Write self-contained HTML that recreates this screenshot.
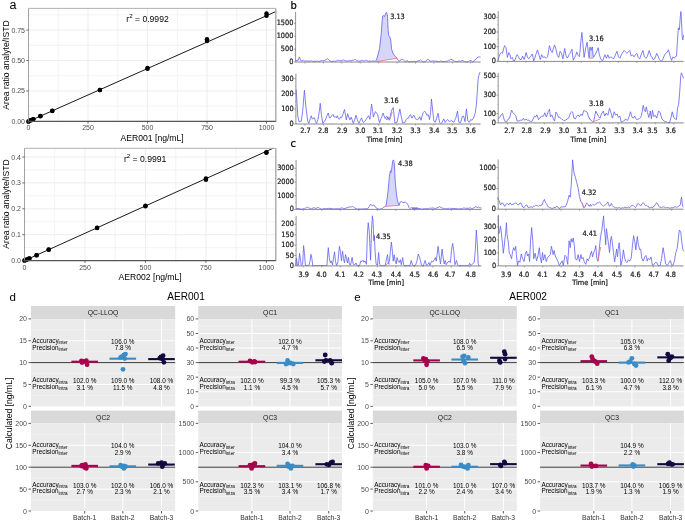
<!DOCTYPE html>
<html><head><meta charset="utf-8"><style>
html,body{margin:0;padding:0;background:#fff;overflow:hidden;}
svg{display:block;}
</style></head><body>
<svg width="685" height="522" viewBox="0 0 685 522">
<rect width="685" height="522" fill="#fff"/>
<line x1="28.5" y1="121.4" x2="275.8" y2="121.4" stroke="#EBEBEB" stroke-width="0.9" />
<line x1="28.5" y1="90.96" x2="275.8" y2="90.96" stroke="#EBEBEB" stroke-width="0.9" />
<line x1="28.5" y1="60.52" x2="275.8" y2="60.52" stroke="#EBEBEB" stroke-width="0.9" />
<line x1="28.5" y1="30.07" x2="275.8" y2="30.07" stroke="#EBEBEB" stroke-width="0.9" />
<line x1="28.5" y1="106.18" x2="275.8" y2="106.18" stroke="#EEEEEE" stroke-width="0.7" />
<line x1="28.5" y1="75.74" x2="275.8" y2="75.74" stroke="#EEEEEE" stroke-width="0.7" />
<line x1="28.5" y1="45.3" x2="275.8" y2="45.3" stroke="#EEEEEE" stroke-width="0.7" />
<line x1="28.5" y1="14.85" x2="275.8" y2="14.85" stroke="#EEEEEE" stroke-width="0.7" />
<line x1="28.5" y1="8.4" x2="28.5" y2="121.4" stroke="#EBEBEB" stroke-width="0.9" />
<line x1="88" y1="8.4" x2="88" y2="121.4" stroke="#EBEBEB" stroke-width="0.9" />
<line x1="147.5" y1="8.4" x2="147.5" y2="121.4" stroke="#EBEBEB" stroke-width="0.9" />
<line x1="207" y1="8.4" x2="207" y2="121.4" stroke="#EBEBEB" stroke-width="0.9" />
<line x1="266.5" y1="8.4" x2="266.5" y2="121.4" stroke="#EBEBEB" stroke-width="0.9" />
<line x1="58.25" y1="8.4" x2="58.25" y2="121.4" stroke="#EEEEEE" stroke-width="0.7" />
<line x1="117.75" y1="8.4" x2="117.75" y2="121.4" stroke="#EEEEEE" stroke-width="0.7" />
<line x1="177.25" y1="8.4" x2="177.25" y2="121.4" stroke="#EEEEEE" stroke-width="0.7" />
<line x1="236.75" y1="8.4" x2="236.75" y2="121.4" stroke="#EEEEEE" stroke-width="0.7" />
<clipPath id="c8"><rect x="28.5" y="8.4" width="247.3" height="113"/></clipPath>
<line x1="28.5" y1="121.4" x2="278.4" y2="10.42" stroke="#1a1a1a" stroke-width="1.0" clip-path="url(#c8)"/>
<circle cx="28.5" cy="121.4" r="2.25" fill="#000"/>
<circle cx="28.5" cy="121.4" r="2.25" fill="#000"/>
<circle cx="30.88" cy="120.34" r="2.25" fill="#000"/>
<circle cx="30.88" cy="120.36" r="2.25" fill="#000"/>
<circle cx="33.26" cy="119.28" r="2.25" fill="#000"/>
<circle cx="33.26" cy="119.29" r="2.25" fill="#000"/>
<circle cx="40.4" cy="116.19" r="2.25" fill="#000"/>
<circle cx="40.4" cy="116.11" r="2.25" fill="#000"/>
<circle cx="52.3" cy="110.98" r="2.25" fill="#000"/>
<circle cx="52.3" cy="110.85" r="2.25" fill="#000"/>
<circle cx="99.9" cy="90.1" r="2.25" fill="#000"/>
<circle cx="99.9" cy="90.08" r="2.25" fill="#000"/>
<circle cx="147.5" cy="68.67" r="2.25" fill="#000"/>
<circle cx="147.5" cy="68.03" r="2.25" fill="#000"/>
<circle cx="207" cy="39.35" r="2.25" fill="#000"/>
<circle cx="207" cy="41.06" r="2.25" fill="#000"/>
<circle cx="266.5" cy="13.54" r="2.25" fill="#000"/>
<circle cx="266.5" cy="15.64" r="2.25" fill="#000"/>
<line x1="28.5" y1="8.4" x2="275.8" y2="8.4" stroke="#A8A8A8" stroke-width="0.9" />
<line x1="28.5" y1="8.4" x2="28.5" y2="121.4" stroke="#9A9A9A" stroke-width="0.9" />
<line x1="275.8" y1="8.4" x2="275.8" y2="121.9" stroke="#aaaaaa" stroke-width="1.4" />
<line x1="28.5" y1="121.4" x2="275.8" y2="121.4" stroke="#555" stroke-width="1.1" />
<line x1="26.3" y1="121.4" x2="28.5" y2="121.4" stroke="#444" stroke-width="0.8" />
<text x="25" y="123.9" font-size="7" text-anchor="end" fill="#4D4D4D" font-family="Liberation Sans, Arial, sans-serif" >0.00</text>
<line x1="26.3" y1="90.96" x2="28.5" y2="90.96" stroke="#444" stroke-width="0.8" />
<text x="25" y="93.46" font-size="7" text-anchor="end" fill="#4D4D4D" font-family="Liberation Sans, Arial, sans-serif" >0.25</text>
<line x1="26.3" y1="60.52" x2="28.5" y2="60.52" stroke="#444" stroke-width="0.8" />
<text x="25" y="63.02" font-size="7" text-anchor="end" fill="#4D4D4D" font-family="Liberation Sans, Arial, sans-serif" >0.50</text>
<line x1="26.3" y1="30.07" x2="28.5" y2="30.07" stroke="#444" stroke-width="0.8" />
<text x="25" y="32.57" font-size="7" text-anchor="end" fill="#4D4D4D" font-family="Liberation Sans, Arial, sans-serif" >0.75</text>
<line x1="28.5" y1="121.4" x2="28.5" y2="123.6" stroke="#444" stroke-width="0.8" />
<text x="28.5" y="130.4" font-size="7" text-anchor="middle" fill="#4D4D4D" font-family="Liberation Sans, Arial, sans-serif" >0</text>
<line x1="88" y1="121.4" x2="88" y2="123.6" stroke="#444" stroke-width="0.8" />
<text x="88" y="130.4" font-size="7" text-anchor="middle" fill="#4D4D4D" font-family="Liberation Sans, Arial, sans-serif" >250</text>
<line x1="147.5" y1="121.4" x2="147.5" y2="123.6" stroke="#444" stroke-width="0.8" />
<text x="147.5" y="130.4" font-size="7" text-anchor="middle" fill="#4D4D4D" font-family="Liberation Sans, Arial, sans-serif" >500</text>
<line x1="207" y1="121.4" x2="207" y2="123.6" stroke="#444" stroke-width="0.8" />
<text x="207" y="130.4" font-size="7" text-anchor="middle" fill="#4D4D4D" font-family="Liberation Sans, Arial, sans-serif" >750</text>
<line x1="266.5" y1="121.4" x2="266.5" y2="123.6" stroke="#444" stroke-width="0.8" />
<text x="266.5" y="130.4" font-size="7" text-anchor="middle" fill="#4D4D4D" font-family="Liberation Sans, Arial, sans-serif" >1000</text>
<text x="152.15" y="140.9" font-size="8.6" text-anchor="middle" fill="#000" font-family="Liberation Sans, Arial, sans-serif" >AER001 [ng/mL]</text>
<text transform="translate(9.1,65) rotate(-90)" font-size="8.6" text-anchor="middle" font-family="Liberation Sans, Arial, sans-serif" fill="#000">Area ratio analyte/ISTD</text>
<text x="126.3" y="21.8" font-size="8.6" font-family="Liberation Sans, Arial, sans-serif" fill="#000">r<tspan font-size="6.2" dy="-3.6">2</tspan><tspan dy="3.6"> = 0.9992</tspan></text>
<line x1="24.5" y1="260.6" x2="275.8" y2="260.6" stroke="#EBEBEB" stroke-width="0.9" />
<line x1="24.5" y1="234.7" x2="275.8" y2="234.7" stroke="#EBEBEB" stroke-width="0.9" />
<line x1="24.5" y1="208.8" x2="275.8" y2="208.8" stroke="#EBEBEB" stroke-width="0.9" />
<line x1="24.5" y1="182.9" x2="275.8" y2="182.9" stroke="#EBEBEB" stroke-width="0.9" />
<line x1="24.5" y1="157" x2="275.8" y2="157" stroke="#EBEBEB" stroke-width="0.9" />
<line x1="24.5" y1="247.65" x2="275.8" y2="247.65" stroke="#EEEEEE" stroke-width="0.7" />
<line x1="24.5" y1="221.75" x2="275.8" y2="221.75" stroke="#EEEEEE" stroke-width="0.7" />
<line x1="24.5" y1="195.85" x2="275.8" y2="195.85" stroke="#EEEEEE" stroke-width="0.7" />
<line x1="24.5" y1="169.95" x2="275.8" y2="169.95" stroke="#EEEEEE" stroke-width="0.7" />
<line x1="24.5" y1="148.3" x2="24.5" y2="260.6" stroke="#EBEBEB" stroke-width="0.9" />
<line x1="84.97" y1="148.3" x2="84.97" y2="260.6" stroke="#EBEBEB" stroke-width="0.9" />
<line x1="145.45" y1="148.3" x2="145.45" y2="260.6" stroke="#EBEBEB" stroke-width="0.9" />
<line x1="205.93" y1="148.3" x2="205.93" y2="260.6" stroke="#EBEBEB" stroke-width="0.9" />
<line x1="266.4" y1="148.3" x2="266.4" y2="260.6" stroke="#EBEBEB" stroke-width="0.9" />
<line x1="54.74" y1="148.3" x2="54.74" y2="260.6" stroke="#EEEEEE" stroke-width="0.7" />
<line x1="115.21" y1="148.3" x2="115.21" y2="260.6" stroke="#EEEEEE" stroke-width="0.7" />
<line x1="175.69" y1="148.3" x2="175.69" y2="260.6" stroke="#EEEEEE" stroke-width="0.7" />
<line x1="236.16" y1="148.3" x2="236.16" y2="260.6" stroke="#EEEEEE" stroke-width="0.7" />
<clipPath id="c148"><rect x="24.5" y="148.3" width="251.3" height="112.3"/></clipPath>
<line x1="24.5" y1="260.6" x2="278.5" y2="145.84" stroke="#1a1a1a" stroke-width="1.0" clip-path="url(#c148)"/>
<circle cx="24.5" cy="260.6" r="2.25" fill="#000"/>
<circle cx="24.5" cy="260.6" r="2.25" fill="#000"/>
<circle cx="26.92" cy="259.49" r="2.25" fill="#000"/>
<circle cx="26.92" cy="259.52" r="2.25" fill="#000"/>
<circle cx="29.34" cy="258.39" r="2.25" fill="#000"/>
<circle cx="29.34" cy="258.43" r="2.25" fill="#000"/>
<circle cx="36.59" cy="255.19" r="2.25" fill="#000"/>
<circle cx="36.59" cy="255.2" r="2.25" fill="#000"/>
<circle cx="48.69" cy="249.73" r="2.25" fill="#000"/>
<circle cx="48.69" cy="249.57" r="2.25" fill="#000"/>
<circle cx="97.07" cy="228.12" r="2.25" fill="#000"/>
<circle cx="97.07" cy="227.73" r="2.25" fill="#000"/>
<circle cx="145.45" cy="205.72" r="2.25" fill="#000"/>
<circle cx="145.45" cy="206.16" r="2.25" fill="#000"/>
<circle cx="205.93" cy="178.51" r="2.25" fill="#000"/>
<circle cx="205.93" cy="179.7" r="2.25" fill="#000"/>
<circle cx="266.4" cy="152.75" r="2.25" fill="#000"/>
<circle cx="266.4" cy="152.27" r="2.25" fill="#000"/>
<line x1="24.5" y1="148.3" x2="275.8" y2="148.3" stroke="#A8A8A8" stroke-width="0.9" />
<line x1="24.5" y1="148.3" x2="24.5" y2="260.6" stroke="#9A9A9A" stroke-width="0.9" />
<line x1="275.8" y1="148.3" x2="275.8" y2="261.1" stroke="#aaaaaa" stroke-width="1.4" />
<line x1="24.5" y1="260.6" x2="275.8" y2="260.6" stroke="#555" stroke-width="1.1" />
<line x1="22.3" y1="260.6" x2="24.5" y2="260.6" stroke="#444" stroke-width="0.8" />
<text x="21" y="263.1" font-size="7" text-anchor="end" fill="#4D4D4D" font-family="Liberation Sans, Arial, sans-serif" >0.0</text>
<line x1="22.3" y1="234.7" x2="24.5" y2="234.7" stroke="#444" stroke-width="0.8" />
<text x="21" y="237.2" font-size="7" text-anchor="end" fill="#4D4D4D" font-family="Liberation Sans, Arial, sans-serif" >0.1</text>
<line x1="22.3" y1="208.8" x2="24.5" y2="208.8" stroke="#444" stroke-width="0.8" />
<text x="21" y="211.3" font-size="7" text-anchor="end" fill="#4D4D4D" font-family="Liberation Sans, Arial, sans-serif" >0.2</text>
<line x1="22.3" y1="182.9" x2="24.5" y2="182.9" stroke="#444" stroke-width="0.8" />
<text x="21" y="185.4" font-size="7" text-anchor="end" fill="#4D4D4D" font-family="Liberation Sans, Arial, sans-serif" >0.3</text>
<line x1="22.3" y1="157" x2="24.5" y2="157" stroke="#444" stroke-width="0.8" />
<text x="21" y="159.5" font-size="7" text-anchor="end" fill="#4D4D4D" font-family="Liberation Sans, Arial, sans-serif" >0.4</text>
<line x1="24.5" y1="260.6" x2="24.5" y2="262.8" stroke="#444" stroke-width="0.8" />
<text x="24.5" y="269.6" font-size="7" text-anchor="middle" fill="#4D4D4D" font-family="Liberation Sans, Arial, sans-serif" >0</text>
<line x1="84.97" y1="260.6" x2="84.97" y2="262.8" stroke="#444" stroke-width="0.8" />
<text x="84.97" y="269.6" font-size="7" text-anchor="middle" fill="#4D4D4D" font-family="Liberation Sans, Arial, sans-serif" >250</text>
<line x1="145.45" y1="260.6" x2="145.45" y2="262.8" stroke="#444" stroke-width="0.8" />
<text x="145.45" y="269.6" font-size="7" text-anchor="middle" fill="#4D4D4D" font-family="Liberation Sans, Arial, sans-serif" >500</text>
<line x1="205.93" y1="260.6" x2="205.93" y2="262.8" stroke="#444" stroke-width="0.8" />
<text x="205.93" y="269.6" font-size="7" text-anchor="middle" fill="#4D4D4D" font-family="Liberation Sans, Arial, sans-serif" >750</text>
<line x1="266.4" y1="260.6" x2="266.4" y2="262.8" stroke="#444" stroke-width="0.8" />
<text x="266.4" y="269.6" font-size="7" text-anchor="middle" fill="#4D4D4D" font-family="Liberation Sans, Arial, sans-serif" >1000</text>
<text x="150.15" y="280.1" font-size="8.6" text-anchor="middle" fill="#000" font-family="Liberation Sans, Arial, sans-serif" >AER002 [ng/mL]</text>
<text transform="translate(9.1,204) rotate(-90)" font-size="8.6" text-anchor="middle" font-family="Liberation Sans, Arial, sans-serif" fill="#000">Area ratio analyte/ISTD</text>
<text x="123.9" y="161.7" font-size="8.6" font-family="Liberation Sans, Arial, sans-serif" fill="#000">r<tspan font-size="6.2" dy="-3.6">2</tspan><tspan dy="3.6"> = 0.9991</tspan></text>
<text x="9.5" y="8.7" font-size="12.5" text-anchor="start" fill="#000" font-family="Liberation Sans, Arial, sans-serif" >a</text>
<rect x="31" y="306" width="144.2" height="13.2" fill="#D9D9D9" />
<rect x="31" y="319.2" width="144.2" height="87.1" fill="#EBEBEB" />
<line x1="31" y1="384.45" x2="175.2" y2="384.45" stroke="#FFFFFF" stroke-width="1.0" />
<line x1="31" y1="362.6" x2="175.2" y2="362.6" stroke="#FFFFFF" stroke-width="1.0" />
<line x1="31" y1="340.75" x2="175.2" y2="340.75" stroke="#FFFFFF" stroke-width="1.0" />
<line x1="31" y1="395.38" x2="175.2" y2="395.38" stroke="#F5F5F5" stroke-width="0.6" />
<line x1="31" y1="373.52" x2="175.2" y2="373.52" stroke="#F5F5F5" stroke-width="0.6" />
<line x1="31" y1="351.68" x2="175.2" y2="351.68" stroke="#F5F5F5" stroke-width="0.6" />
<line x1="31" y1="329.82" x2="175.2" y2="329.82" stroke="#F5F5F5" stroke-width="0.6" />
<line x1="84.7" y1="319.2" x2="84.7" y2="406.3" stroke="#FFFFFF" stroke-width="1.0" />
<line x1="122.8" y1="319.2" x2="122.8" y2="406.3" stroke="#FFFFFF" stroke-width="1.0" />
<line x1="161.5" y1="319.2" x2="161.5" y2="406.3" stroke="#FFFFFF" stroke-width="1.0" />
<text x="103.1" y="315.1" font-size="6.8" text-anchor="middle" fill="#1A1A1A" font-family="Liberation Sans, Arial, sans-serif" >QC-LLOQ</text>
<line x1="28.5" y1="406.3" x2="31" y2="406.3" stroke="#333" stroke-width="0.8" />
<text x="27" y="408.8" font-size="7" text-anchor="end" fill="#4D4D4D" font-family="Liberation Sans, Arial, sans-serif" >0</text>
<line x1="28.5" y1="384.45" x2="31" y2="384.45" stroke="#333" stroke-width="0.8" />
<text x="27" y="386.95" font-size="7" text-anchor="end" fill="#4D4D4D" font-family="Liberation Sans, Arial, sans-serif" >5</text>
<line x1="28.5" y1="362.6" x2="31" y2="362.6" stroke="#333" stroke-width="0.8" />
<text x="27" y="365.1" font-size="7" text-anchor="end" fill="#4D4D4D" font-family="Liberation Sans, Arial, sans-serif" >10</text>
<line x1="28.5" y1="340.75" x2="31" y2="340.75" stroke="#333" stroke-width="0.8" />
<text x="27" y="343.25" font-size="7" text-anchor="end" fill="#4D4D4D" font-family="Liberation Sans, Arial, sans-serif" >15</text>
<line x1="28.5" y1="318.9" x2="31" y2="318.9" stroke="#333" stroke-width="0.8" />
<text x="27" y="321.4" font-size="7" text-anchor="end" fill="#4D4D4D" font-family="Liberation Sans, Arial, sans-serif" >20</text>
<text x="32.3" y="342.9" font-size="6.4" font-family="Liberation Sans, Arial, sans-serif" fill="#000">Accuracy<tspan font-size="4.6" dy="1.3">inter</tspan></text>
<text x="32.3" y="349.5" font-size="6.4" font-family="Liberation Sans, Arial, sans-serif" fill="#000">Precision<tspan font-size="4.6" dy="1.3">inter</tspan></text>
<text x="32.3" y="382.3" font-size="6.4" font-family="Liberation Sans, Arial, sans-serif" fill="#000">Accuracy<tspan font-size="4.6" dy="1.3">intra</tspan></text>
<text x="32.3" y="388.9" font-size="6.4" font-family="Liberation Sans, Arial, sans-serif" fill="#000">Precision<tspan font-size="4.6" dy="1.3">intra</tspan></text>
<text x="122.8" y="343.8" font-size="6.4" text-anchor="middle" fill="#000" font-family="Liberation Sans, Arial, sans-serif" >106.0 %</text>
<text x="122.8" y="350.4" font-size="6.4" text-anchor="middle" fill="#000" font-family="Liberation Sans, Arial, sans-serif" >7.8 %</text>
<text x="84.7" y="383.1" font-size="6.4" text-anchor="middle" fill="#000" font-family="Liberation Sans, Arial, sans-serif" >102.0 %</text>
<text x="84.7" y="389.7" font-size="6.4" text-anchor="middle" fill="#000" font-family="Liberation Sans, Arial, sans-serif" >3.1 %</text>
<text x="122.8" y="383.1" font-size="6.4" text-anchor="middle" fill="#000" font-family="Liberation Sans, Arial, sans-serif" >109.0 %</text>
<text x="122.8" y="389.7" font-size="6.4" text-anchor="middle" fill="#000" font-family="Liberation Sans, Arial, sans-serif" >11.5 %</text>
<text x="161.5" y="383.1" font-size="6.4" text-anchor="middle" fill="#000" font-family="Liberation Sans, Arial, sans-serif" >108.0 %</text>
<text x="161.5" y="389.7" font-size="6.4" text-anchor="middle" fill="#000" font-family="Liberation Sans, Arial, sans-serif" >4.8 %</text>
<line x1="31" y1="362.6" x2="175.2" y2="362.6" stroke="#3a3a3a" stroke-width="1.0" />
<line x1="71.4" y1="361.73" x2="98" y2="361.73" stroke="#A8004C" stroke-width="2.1" />
<line x1="109.5" y1="358.67" x2="136.1" y2="358.67" stroke="#3A8CC6" stroke-width="2.1" />
<line x1="148.2" y1="359.1" x2="174.8" y2="359.1" stroke="#13083F" stroke-width="2.1" />
<circle cx="81.4" cy="361" r="2.4" fill="#A8004C"/>
<circle cx="86.3" cy="360.6" r="2.4" fill="#A8004C"/>
<circle cx="82" cy="362.6" r="2.4" fill="#A8004C"/>
<circle cx="87.1" cy="364.7" r="2.4" fill="#A8004C"/>
<circle cx="84" cy="361.5" r="2.4" fill="#A8004C"/>
<circle cx="120.6" cy="357.4" r="2.4" fill="#3A8CC6"/>
<circle cx="123.9" cy="354.9" r="2.4" fill="#3A8CC6"/>
<circle cx="125.5" cy="354.1" r="2.4" fill="#3A8CC6"/>
<circle cx="124.7" cy="358.6" r="2.4" fill="#3A8CC6"/>
<circle cx="123" cy="369.3" r="2.4" fill="#3A8CC6"/>
<circle cx="122.2" cy="356.5" r="2.4" fill="#3A8CC6"/>
<circle cx="159.8" cy="358.2" r="2.4" fill="#13083F"/>
<circle cx="163.1" cy="355.7" r="2.4" fill="#13083F"/>
<circle cx="162.3" cy="359" r="2.4" fill="#13083F"/>
<circle cx="163.9" cy="362.3" r="2.4" fill="#13083F"/>
<circle cx="161" cy="357" r="2.4" fill="#13083F"/>
<rect x="198.2" y="306" width="143.8" height="13.2" fill="#D9D9D9" />
<rect x="198.2" y="319.2" width="143.8" height="87.1" fill="#EBEBEB" />
<line x1="198.2" y1="391.73" x2="342" y2="391.73" stroke="#FFFFFF" stroke-width="1.0" />
<line x1="198.2" y1="377.17" x2="342" y2="377.17" stroke="#FFFFFF" stroke-width="1.0" />
<line x1="198.2" y1="362.6" x2="342" y2="362.6" stroke="#FFFFFF" stroke-width="1.0" />
<line x1="198.2" y1="348.03" x2="342" y2="348.03" stroke="#FFFFFF" stroke-width="1.0" />
<line x1="198.2" y1="333.47" x2="342" y2="333.47" stroke="#FFFFFF" stroke-width="1.0" />
<line x1="198.2" y1="399.02" x2="342" y2="399.02" stroke="#F5F5F5" stroke-width="0.6" />
<line x1="198.2" y1="384.45" x2="342" y2="384.45" stroke="#F5F5F5" stroke-width="0.6" />
<line x1="198.2" y1="369.88" x2="342" y2="369.88" stroke="#F5F5F5" stroke-width="0.6" />
<line x1="198.2" y1="355.32" x2="342" y2="355.32" stroke="#F5F5F5" stroke-width="0.6" />
<line x1="198.2" y1="340.75" x2="342" y2="340.75" stroke="#F5F5F5" stroke-width="0.6" />
<line x1="198.2" y1="326.18" x2="342" y2="326.18" stroke="#F5F5F5" stroke-width="0.6" />
<line x1="251.9" y1="319.2" x2="251.9" y2="406.3" stroke="#FFFFFF" stroke-width="1.0" />
<line x1="290" y1="319.2" x2="290" y2="406.3" stroke="#FFFFFF" stroke-width="1.0" />
<line x1="328.7" y1="319.2" x2="328.7" y2="406.3" stroke="#FFFFFF" stroke-width="1.0" />
<text x="270.1" y="315.1" font-size="6.8" text-anchor="middle" fill="#1A1A1A" font-family="Liberation Sans, Arial, sans-serif" >QC1</text>
<line x1="195.7" y1="406.3" x2="198.2" y2="406.3" stroke="#333" stroke-width="0.8" />
<text x="194.2" y="408.8" font-size="7" text-anchor="end" fill="#4D4D4D" font-family="Liberation Sans, Arial, sans-serif" >0</text>
<line x1="195.7" y1="391.73" x2="198.2" y2="391.73" stroke="#333" stroke-width="0.8" />
<text x="194.2" y="394.23" font-size="7" text-anchor="end" fill="#4D4D4D" font-family="Liberation Sans, Arial, sans-serif" >10</text>
<line x1="195.7" y1="377.17" x2="198.2" y2="377.17" stroke="#333" stroke-width="0.8" />
<text x="194.2" y="379.67" font-size="7" text-anchor="end" fill="#4D4D4D" font-family="Liberation Sans, Arial, sans-serif" >20</text>
<line x1="195.7" y1="362.6" x2="198.2" y2="362.6" stroke="#333" stroke-width="0.8" />
<text x="194.2" y="365.1" font-size="7" text-anchor="end" fill="#4D4D4D" font-family="Liberation Sans, Arial, sans-serif" >30</text>
<line x1="195.7" y1="348.03" x2="198.2" y2="348.03" stroke="#333" stroke-width="0.8" />
<text x="194.2" y="350.53" font-size="7" text-anchor="end" fill="#4D4D4D" font-family="Liberation Sans, Arial, sans-serif" >40</text>
<line x1="195.7" y1="333.47" x2="198.2" y2="333.47" stroke="#333" stroke-width="0.8" />
<text x="194.2" y="335.97" font-size="7" text-anchor="end" fill="#4D4D4D" font-family="Liberation Sans, Arial, sans-serif" >50</text>
<line x1="195.7" y1="318.9" x2="198.2" y2="318.9" stroke="#333" stroke-width="0.8" />
<text x="194.2" y="321.4" font-size="7" text-anchor="end" fill="#4D4D4D" font-family="Liberation Sans, Arial, sans-serif" >60</text>
<text x="199.5" y="342.9" font-size="6.4" font-family="Liberation Sans, Arial, sans-serif" fill="#000">Accuracy<tspan font-size="4.6" dy="1.3">inter</tspan></text>
<text x="199.5" y="349.5" font-size="6.4" font-family="Liberation Sans, Arial, sans-serif" fill="#000">Precision<tspan font-size="4.6" dy="1.3">inter</tspan></text>
<text x="199.5" y="382.3" font-size="6.4" font-family="Liberation Sans, Arial, sans-serif" fill="#000">Accuracy<tspan font-size="4.6" dy="1.3">intra</tspan></text>
<text x="199.5" y="388.9" font-size="6.4" font-family="Liberation Sans, Arial, sans-serif" fill="#000">Precision<tspan font-size="4.6" dy="1.3">intra</tspan></text>
<text x="290" y="343.8" font-size="6.4" text-anchor="middle" fill="#000" font-family="Liberation Sans, Arial, sans-serif" >102.0 %</text>
<text x="290" y="350.4" font-size="6.4" text-anchor="middle" fill="#000" font-family="Liberation Sans, Arial, sans-serif" >4.7 %</text>
<text x="251.9" y="383.1" font-size="6.4" text-anchor="middle" fill="#000" font-family="Liberation Sans, Arial, sans-serif" >102.0 %</text>
<text x="251.9" y="389.7" font-size="6.4" text-anchor="middle" fill="#000" font-family="Liberation Sans, Arial, sans-serif" >1.1 %</text>
<text x="290" y="383.1" font-size="6.4" text-anchor="middle" fill="#000" font-family="Liberation Sans, Arial, sans-serif" >99.3 %</text>
<text x="290" y="389.7" font-size="6.4" text-anchor="middle" fill="#000" font-family="Liberation Sans, Arial, sans-serif" >4.5 %</text>
<text x="328.7" y="383.1" font-size="6.4" text-anchor="middle" fill="#000" font-family="Liberation Sans, Arial, sans-serif" >105.3 %</text>
<text x="328.7" y="389.7" font-size="6.4" text-anchor="middle" fill="#000" font-family="Liberation Sans, Arial, sans-serif" >5.7 %</text>
<line x1="198.2" y1="362.6" x2="342" y2="362.6" stroke="#3a3a3a" stroke-width="1.0" />
<line x1="238.6" y1="361.73" x2="265.2" y2="361.73" stroke="#A8004C" stroke-width="2.1" />
<line x1="276.7" y1="362.91" x2="303.3" y2="362.91" stroke="#3A8CC6" stroke-width="2.1" />
<line x1="315.4" y1="360.28" x2="342" y2="360.28" stroke="#13083F" stroke-width="2.1" />
<circle cx="250" cy="361" r="2.4" fill="#A8004C"/>
<circle cx="254.1" cy="361.5" r="2.4" fill="#A8004C"/>
<circle cx="252.4" cy="362.3" r="2.4" fill="#A8004C"/>
<circle cx="255" cy="362" r="2.4" fill="#A8004C"/>
<circle cx="287.6" cy="360.4" r="2.4" fill="#3A8CC6"/>
<circle cx="288.4" cy="363.2" r="2.4" fill="#3A8CC6"/>
<circle cx="293.3" cy="364" r="2.4" fill="#3A8CC6"/>
<circle cx="286" cy="364" r="2.4" fill="#3A8CC6"/>
<circle cx="290.5" cy="363" r="2.4" fill="#3A8CC6"/>
<circle cx="325.2" cy="355" r="2.4" fill="#13083F"/>
<circle cx="326" cy="360.4" r="2.4" fill="#13083F"/>
<circle cx="330.1" cy="360.4" r="2.4" fill="#13083F"/>
<circle cx="331.7" cy="363.2" r="2.4" fill="#13083F"/>
<circle cx="324.4" cy="361.5" r="2.4" fill="#13083F"/>
<rect x="31" y="410.6" width="144.2" height="12.5" fill="#D9D9D9" />
<rect x="31" y="423.1" width="144.2" height="87.9" fill="#EBEBEB" />
<line x1="31" y1="489.1" x2="175.2" y2="489.1" stroke="#FFFFFF" stroke-width="1.0" />
<line x1="31" y1="467.2" x2="175.2" y2="467.2" stroke="#FFFFFF" stroke-width="1.0" />
<line x1="31" y1="445.3" x2="175.2" y2="445.3" stroke="#FFFFFF" stroke-width="1.0" />
<line x1="31" y1="500.05" x2="175.2" y2="500.05" stroke="#F5F5F5" stroke-width="0.6" />
<line x1="31" y1="478.15" x2="175.2" y2="478.15" stroke="#F5F5F5" stroke-width="0.6" />
<line x1="31" y1="456.25" x2="175.2" y2="456.25" stroke="#F5F5F5" stroke-width="0.6" />
<line x1="31" y1="434.35" x2="175.2" y2="434.35" stroke="#F5F5F5" stroke-width="0.6" />
<line x1="84.7" y1="423.1" x2="84.7" y2="511" stroke="#FFFFFF" stroke-width="1.0" />
<line x1="122.8" y1="423.1" x2="122.8" y2="511" stroke="#FFFFFF" stroke-width="1.0" />
<line x1="161.5" y1="423.1" x2="161.5" y2="511" stroke="#FFFFFF" stroke-width="1.0" />
<text x="103.1" y="419.7" font-size="6.8" text-anchor="middle" fill="#1A1A1A" font-family="Liberation Sans, Arial, sans-serif" >QC2</text>
<line x1="28.5" y1="511" x2="31" y2="511" stroke="#333" stroke-width="0.8" />
<text x="27" y="513.5" font-size="7" text-anchor="end" fill="#4D4D4D" font-family="Liberation Sans, Arial, sans-serif" >0</text>
<line x1="28.5" y1="489.1" x2="31" y2="489.1" stroke="#333" stroke-width="0.8" />
<text x="27" y="491.6" font-size="7" text-anchor="end" fill="#4D4D4D" font-family="Liberation Sans, Arial, sans-serif" >50</text>
<line x1="28.5" y1="467.2" x2="31" y2="467.2" stroke="#333" stroke-width="0.8" />
<text x="27" y="469.7" font-size="7" text-anchor="end" fill="#4D4D4D" font-family="Liberation Sans, Arial, sans-serif" >100</text>
<line x1="28.5" y1="445.3" x2="31" y2="445.3" stroke="#333" stroke-width="0.8" />
<text x="27" y="447.8" font-size="7" text-anchor="end" fill="#4D4D4D" font-family="Liberation Sans, Arial, sans-serif" >150</text>
<line x1="28.5" y1="423.4" x2="31" y2="423.4" stroke="#333" stroke-width="0.8" />
<text x="27" y="425.9" font-size="7" text-anchor="end" fill="#4D4D4D" font-family="Liberation Sans, Arial, sans-serif" >200</text>
<text x="32.3" y="447.4" font-size="6.4" font-family="Liberation Sans, Arial, sans-serif" fill="#000">Accuracy<tspan font-size="4.6" dy="1.3">inter</tspan></text>
<text x="32.3" y="454" font-size="6.4" font-family="Liberation Sans, Arial, sans-serif" fill="#000">Precision<tspan font-size="4.6" dy="1.3">inter</tspan></text>
<text x="32.3" y="486.8" font-size="6.4" font-family="Liberation Sans, Arial, sans-serif" fill="#000">Accuracy<tspan font-size="4.6" dy="1.3">intra</tspan></text>
<text x="32.3" y="493.4" font-size="6.4" font-family="Liberation Sans, Arial, sans-serif" fill="#000">Precision<tspan font-size="4.6" dy="1.3">intra</tspan></text>
<text x="122.8" y="448.3" font-size="6.4" text-anchor="middle" fill="#000" font-family="Liberation Sans, Arial, sans-serif" >104.0 %</text>
<text x="122.8" y="454.9" font-size="6.4" text-anchor="middle" fill="#000" font-family="Liberation Sans, Arial, sans-serif" >2.9 %</text>
<text x="84.7" y="487.6" font-size="6.4" text-anchor="middle" fill="#000" font-family="Liberation Sans, Arial, sans-serif" >103.0 %</text>
<text x="84.7" y="494.2" font-size="6.4" text-anchor="middle" fill="#000" font-family="Liberation Sans, Arial, sans-serif" >2.7 %</text>
<text x="122.8" y="487.6" font-size="6.4" text-anchor="middle" fill="#000" font-family="Liberation Sans, Arial, sans-serif" >102.0 %</text>
<text x="122.8" y="494.2" font-size="6.4" text-anchor="middle" fill="#000" font-family="Liberation Sans, Arial, sans-serif" >2.3 %</text>
<text x="161.5" y="487.6" font-size="6.4" text-anchor="middle" fill="#000" font-family="Liberation Sans, Arial, sans-serif" >106.0 %</text>
<text x="161.5" y="494.2" font-size="6.4" text-anchor="middle" fill="#000" font-family="Liberation Sans, Arial, sans-serif" >2.1 %</text>
<line x1="31" y1="467.2" x2="175.2" y2="467.2" stroke="#3a3a3a" stroke-width="1.0" />
<line x1="71.4" y1="465.89" x2="98" y2="465.89" stroke="#A8004C" stroke-width="2.1" />
<line x1="109.5" y1="466.32" x2="136.1" y2="466.32" stroke="#3A8CC6" stroke-width="2.1" />
<line x1="148.2" y1="464.57" x2="174.8" y2="464.57" stroke="#13083F" stroke-width="2.1" />
<circle cx="82.2" cy="465.1" r="2.4" fill="#A8004C"/>
<circle cx="85.4" cy="464.3" r="2.4" fill="#A8004C"/>
<circle cx="84.6" cy="467.5" r="2.4" fill="#A8004C"/>
<circle cx="86.3" cy="468.4" r="2.4" fill="#A8004C"/>
<circle cx="81.5" cy="466" r="2.4" fill="#A8004C"/>
<circle cx="120.6" cy="465.1" r="2.4" fill="#3A8CC6"/>
<circle cx="123.9" cy="465.9" r="2.4" fill="#3A8CC6"/>
<circle cx="125.5" cy="466.5" r="2.4" fill="#3A8CC6"/>
<circle cx="123.9" cy="468.4" r="2.4" fill="#3A8CC6"/>
<circle cx="121.5" cy="466.5" r="2.4" fill="#3A8CC6"/>
<circle cx="158.2" cy="463.4" r="2.4" fill="#13083F"/>
<circle cx="161.5" cy="462.6" r="2.4" fill="#13083F"/>
<circle cx="163.1" cy="464.3" r="2.4" fill="#13083F"/>
<circle cx="162.3" cy="466.7" r="2.4" fill="#13083F"/>
<circle cx="164.8" cy="463.4" r="2.4" fill="#13083F"/>
<line x1="84.7" y1="511" x2="84.7" y2="513.5" stroke="#333" stroke-width="0.8" />
<text x="84.7" y="519.9" font-size="6.8" text-anchor="middle" fill="#333" font-family="Liberation Sans, Arial, sans-serif" >Batch-1</text>
<line x1="122.8" y1="511" x2="122.8" y2="513.5" stroke="#333" stroke-width="0.8" />
<text x="122.8" y="519.9" font-size="6.8" text-anchor="middle" fill="#333" font-family="Liberation Sans, Arial, sans-serif" >Batch-2</text>
<line x1="161.5" y1="511" x2="161.5" y2="513.5" stroke="#333" stroke-width="0.8" />
<text x="161.5" y="519.9" font-size="6.8" text-anchor="middle" fill="#333" font-family="Liberation Sans, Arial, sans-serif" >Batch-3</text>
<rect x="198.2" y="410.6" width="143.8" height="12.5" fill="#D9D9D9" />
<rect x="198.2" y="423.1" width="143.8" height="87.9" fill="#EBEBEB" />
<line x1="198.2" y1="481.8" x2="342" y2="481.8" stroke="#FFFFFF" stroke-width="1.0" />
<line x1="198.2" y1="452.6" x2="342" y2="452.6" stroke="#FFFFFF" stroke-width="1.0" />
<line x1="198.2" y1="496.4" x2="342" y2="496.4" stroke="#F5F5F5" stroke-width="0.6" />
<line x1="198.2" y1="467.2" x2="342" y2="467.2" stroke="#F5F5F5" stroke-width="0.6" />
<line x1="198.2" y1="438" x2="342" y2="438" stroke="#F5F5F5" stroke-width="0.6" />
<line x1="251.9" y1="423.1" x2="251.9" y2="511" stroke="#FFFFFF" stroke-width="1.0" />
<line x1="290" y1="423.1" x2="290" y2="511" stroke="#FFFFFF" stroke-width="1.0" />
<line x1="328.7" y1="423.1" x2="328.7" y2="511" stroke="#FFFFFF" stroke-width="1.0" />
<text x="270.1" y="419.7" font-size="6.8" text-anchor="middle" fill="#1A1A1A" font-family="Liberation Sans, Arial, sans-serif" >QC3</text>
<line x1="195.7" y1="511" x2="198.2" y2="511" stroke="#333" stroke-width="0.8" />
<text x="194.2" y="513.5" font-size="7" text-anchor="end" fill="#4D4D4D" font-family="Liberation Sans, Arial, sans-serif" >0</text>
<line x1="195.7" y1="481.8" x2="198.2" y2="481.8" stroke="#333" stroke-width="0.8" />
<text x="194.2" y="484.3" font-size="7" text-anchor="end" fill="#4D4D4D" font-family="Liberation Sans, Arial, sans-serif" >500</text>
<line x1="195.7" y1="452.6" x2="198.2" y2="452.6" stroke="#333" stroke-width="0.8" />
<text x="194.2" y="455.1" font-size="7" text-anchor="end" fill="#4D4D4D" font-family="Liberation Sans, Arial, sans-serif" >1000</text>
<line x1="195.7" y1="423.4" x2="198.2" y2="423.4" stroke="#333" stroke-width="0.8" />
<text x="194.2" y="425.9" font-size="7" text-anchor="end" fill="#4D4D4D" font-family="Liberation Sans, Arial, sans-serif" >1500</text>
<text x="199.5" y="447.4" font-size="6.4" font-family="Liberation Sans, Arial, sans-serif" fill="#000">Accuracy<tspan font-size="4.6" dy="1.3">inter</tspan></text>
<text x="199.5" y="454" font-size="6.4" font-family="Liberation Sans, Arial, sans-serif" fill="#000">Precision<tspan font-size="4.6" dy="1.3">inter</tspan></text>
<text x="199.5" y="486.8" font-size="6.4" font-family="Liberation Sans, Arial, sans-serif" fill="#000">Accuracy<tspan font-size="4.6" dy="1.3">intra</tspan></text>
<text x="199.5" y="493.4" font-size="6.4" font-family="Liberation Sans, Arial, sans-serif" fill="#000">Precision<tspan font-size="4.6" dy="1.3">intra</tspan></text>
<text x="290" y="448.3" font-size="6.4" text-anchor="middle" fill="#000" font-family="Liberation Sans, Arial, sans-serif" >104.0 %</text>
<text x="290" y="454.9" font-size="6.4" text-anchor="middle" fill="#000" font-family="Liberation Sans, Arial, sans-serif" >3.4 %</text>
<text x="251.9" y="487.6" font-size="6.4" text-anchor="middle" fill="#000" font-family="Liberation Sans, Arial, sans-serif" >102.3 %</text>
<text x="251.9" y="494.2" font-size="6.4" text-anchor="middle" fill="#000" font-family="Liberation Sans, Arial, sans-serif" >3.5 %</text>
<text x="290" y="487.6" font-size="6.4" text-anchor="middle" fill="#000" font-family="Liberation Sans, Arial, sans-serif" >103.1 %</text>
<text x="290" y="494.2" font-size="6.4" text-anchor="middle" fill="#000" font-family="Liberation Sans, Arial, sans-serif" >3.4 %</text>
<text x="328.7" y="487.6" font-size="6.4" text-anchor="middle" fill="#000" font-family="Liberation Sans, Arial, sans-serif" >106.8 %</text>
<text x="328.7" y="494.2" font-size="6.4" text-anchor="middle" fill="#000" font-family="Liberation Sans, Arial, sans-serif" >1.7 %</text>
<line x1="198.2" y1="467.2" x2="342" y2="467.2" stroke="#3a3a3a" stroke-width="1.0" />
<line x1="238.6" y1="466.19" x2="265.2" y2="466.19" stroke="#A8004C" stroke-width="2.1" />
<line x1="276.7" y1="465.84" x2="303.3" y2="465.84" stroke="#3A8CC6" stroke-width="2.1" />
<line x1="315.4" y1="464.22" x2="342" y2="464.22" stroke="#13083F" stroke-width="2.1" />
<circle cx="250" cy="465.1" r="2.4" fill="#A8004C"/>
<circle cx="253.3" cy="464.3" r="2.4" fill="#A8004C"/>
<circle cx="254.9" cy="463.4" r="2.4" fill="#A8004C"/>
<circle cx="251.6" cy="468.4" r="2.4" fill="#A8004C"/>
<circle cx="252.5" cy="466.5" r="2.4" fill="#A8004C"/>
<circle cx="287.6" cy="463.8" r="2.4" fill="#3A8CC6"/>
<circle cx="290" cy="465.9" r="2.4" fill="#3A8CC6"/>
<circle cx="292.5" cy="465.9" r="2.4" fill="#3A8CC6"/>
<circle cx="290.9" cy="468.4" r="2.4" fill="#3A8CC6"/>
<circle cx="288.4" cy="466.5" r="2.4" fill="#3A8CC6"/>
<circle cx="326.8" cy="464.3" r="2.4" fill="#13083F"/>
<circle cx="330.9" cy="462.6" r="2.4" fill="#13083F"/>
<circle cx="332.6" cy="461.8" r="2.4" fill="#13083F"/>
<circle cx="329" cy="464.8" r="2.4" fill="#13083F"/>
<line x1="251.9" y1="511" x2="251.9" y2="513.5" stroke="#333" stroke-width="0.8" />
<text x="251.9" y="519.9" font-size="6.8" text-anchor="middle" fill="#333" font-family="Liberation Sans, Arial, sans-serif" >Batch-1</text>
<line x1="290" y1="511" x2="290" y2="513.5" stroke="#333" stroke-width="0.8" />
<text x="290" y="519.9" font-size="6.8" text-anchor="middle" fill="#333" font-family="Liberation Sans, Arial, sans-serif" >Batch-2</text>
<line x1="328.7" y1="511" x2="328.7" y2="513.5" stroke="#333" stroke-width="0.8" />
<text x="328.7" y="519.9" font-size="6.8" text-anchor="middle" fill="#333" font-family="Liberation Sans, Arial, sans-serif" >Batch-3</text>
<rect x="372.9" y="306" width="143.9" height="13.2" fill="#D9D9D9" />
<rect x="372.9" y="319.2" width="143.9" height="87.1" fill="#EBEBEB" />
<line x1="372.9" y1="384.45" x2="516.8" y2="384.45" stroke="#FFFFFF" stroke-width="1.0" />
<line x1="372.9" y1="362.6" x2="516.8" y2="362.6" stroke="#FFFFFF" stroke-width="1.0" />
<line x1="372.9" y1="340.75" x2="516.8" y2="340.75" stroke="#FFFFFF" stroke-width="1.0" />
<line x1="372.9" y1="395.38" x2="516.8" y2="395.38" stroke="#F5F5F5" stroke-width="0.6" />
<line x1="372.9" y1="373.52" x2="516.8" y2="373.52" stroke="#F5F5F5" stroke-width="0.6" />
<line x1="372.9" y1="351.68" x2="516.8" y2="351.68" stroke="#F5F5F5" stroke-width="0.6" />
<line x1="372.9" y1="329.82" x2="516.8" y2="329.82" stroke="#F5F5F5" stroke-width="0.6" />
<line x1="426.6" y1="319.2" x2="426.6" y2="406.3" stroke="#FFFFFF" stroke-width="1.0" />
<line x1="464.7" y1="319.2" x2="464.7" y2="406.3" stroke="#FFFFFF" stroke-width="1.0" />
<line x1="503.4" y1="319.2" x2="503.4" y2="406.3" stroke="#FFFFFF" stroke-width="1.0" />
<text x="444.85" y="315.1" font-size="6.8" text-anchor="middle" fill="#1A1A1A" font-family="Liberation Sans, Arial, sans-serif" >QC-LLOQ</text>
<line x1="370.4" y1="406.3" x2="372.9" y2="406.3" stroke="#333" stroke-width="0.8" />
<text x="368.9" y="408.8" font-size="7" text-anchor="end" fill="#4D4D4D" font-family="Liberation Sans, Arial, sans-serif" >0</text>
<line x1="370.4" y1="384.45" x2="372.9" y2="384.45" stroke="#333" stroke-width="0.8" />
<text x="368.9" y="386.95" font-size="7" text-anchor="end" fill="#4D4D4D" font-family="Liberation Sans, Arial, sans-serif" >5</text>
<line x1="370.4" y1="362.6" x2="372.9" y2="362.6" stroke="#333" stroke-width="0.8" />
<text x="368.9" y="365.1" font-size="7" text-anchor="end" fill="#4D4D4D" font-family="Liberation Sans, Arial, sans-serif" >10</text>
<line x1="370.4" y1="340.75" x2="372.9" y2="340.75" stroke="#333" stroke-width="0.8" />
<text x="368.9" y="343.25" font-size="7" text-anchor="end" fill="#4D4D4D" font-family="Liberation Sans, Arial, sans-serif" >15</text>
<line x1="370.4" y1="318.9" x2="372.9" y2="318.9" stroke="#333" stroke-width="0.8" />
<text x="368.9" y="321.4" font-size="7" text-anchor="end" fill="#4D4D4D" font-family="Liberation Sans, Arial, sans-serif" >20</text>
<text x="374.2" y="342.9" font-size="6.4" font-family="Liberation Sans, Arial, sans-serif" fill="#000">Accuracy<tspan font-size="4.6" dy="1.3">inter</tspan></text>
<text x="374.2" y="349.5" font-size="6.4" font-family="Liberation Sans, Arial, sans-serif" fill="#000">Precision<tspan font-size="4.6" dy="1.3">inter</tspan></text>
<text x="374.2" y="382.3" font-size="6.4" font-family="Liberation Sans, Arial, sans-serif" fill="#000">Accuracy<tspan font-size="4.6" dy="1.3">intra</tspan></text>
<text x="374.2" y="388.9" font-size="6.4" font-family="Liberation Sans, Arial, sans-serif" fill="#000">Precision<tspan font-size="4.6" dy="1.3">intra</tspan></text>
<text x="464.7" y="343.8" font-size="6.4" text-anchor="middle" fill="#000" font-family="Liberation Sans, Arial, sans-serif" >108.0 %</text>
<text x="464.7" y="350.4" font-size="6.4" text-anchor="middle" fill="#000" font-family="Liberation Sans, Arial, sans-serif" >6.5 %</text>
<text x="426.6" y="383.1" font-size="6.4" text-anchor="middle" fill="#000" font-family="Liberation Sans, Arial, sans-serif" >105.0 %</text>
<text x="426.6" y="389.7" font-size="6.4" text-anchor="middle" fill="#000" font-family="Liberation Sans, Arial, sans-serif" >5.0 %</text>
<text x="464.7" y="383.1" font-size="6.4" text-anchor="middle" fill="#000" font-family="Liberation Sans, Arial, sans-serif" >107.0 %</text>
<text x="464.7" y="389.7" font-size="6.4" text-anchor="middle" fill="#000" font-family="Liberation Sans, Arial, sans-serif" >5.5 %</text>
<text x="503.4" y="383.1" font-size="6.4" text-anchor="middle" fill="#000" font-family="Liberation Sans, Arial, sans-serif" >111.0 %</text>
<text x="503.4" y="389.7" font-size="6.4" text-anchor="middle" fill="#000" font-family="Liberation Sans, Arial, sans-serif" >7.9 %</text>
<line x1="372.9" y1="362.6" x2="516.8" y2="362.6" stroke="#3a3a3a" stroke-width="1.0" />
<line x1="413.3" y1="360.41" x2="439.9" y2="360.41" stroke="#A8004C" stroke-width="2.1" />
<line x1="451.4" y1="359.54" x2="478" y2="359.54" stroke="#3A8CC6" stroke-width="2.1" />
<line x1="490.1" y1="357.79" x2="516.7" y2="357.79" stroke="#13083F" stroke-width="2.1" />
<circle cx="423.4" cy="358.3" r="2.4" fill="#A8004C"/>
<circle cx="425.8" cy="359.1" r="2.4" fill="#A8004C"/>
<circle cx="427.4" cy="361.5" r="2.4" fill="#A8004C"/>
<circle cx="426.6" cy="364.8" r="2.4" fill="#A8004C"/>
<circle cx="425" cy="361" r="2.4" fill="#A8004C"/>
<circle cx="462.6" cy="356.6" r="2.4" fill="#3A8CC6"/>
<circle cx="464.2" cy="355.8" r="2.4" fill="#3A8CC6"/>
<circle cx="468.3" cy="357.4" r="2.4" fill="#3A8CC6"/>
<circle cx="463.4" cy="360.7" r="2.4" fill="#3A8CC6"/>
<circle cx="465" cy="363.2" r="2.4" fill="#3A8CC6"/>
<circle cx="504.3" cy="351.7" r="2.4" fill="#13083F"/>
<circle cx="505.1" cy="354.2" r="2.4" fill="#13083F"/>
<circle cx="505.1" cy="359.1" r="2.4" fill="#13083F"/>
<circle cx="500.2" cy="362.4" r="2.4" fill="#13083F"/>
<circle cx="499.4" cy="360.7" r="2.4" fill="#13083F"/>
<rect x="540.1" y="306" width="143.7" height="13.2" fill="#D9D9D9" />
<rect x="540.1" y="319.2" width="143.7" height="87.1" fill="#EBEBEB" />
<line x1="540.1" y1="391.73" x2="683.8" y2="391.73" stroke="#FFFFFF" stroke-width="1.0" />
<line x1="540.1" y1="377.17" x2="683.8" y2="377.17" stroke="#FFFFFF" stroke-width="1.0" />
<line x1="540.1" y1="362.6" x2="683.8" y2="362.6" stroke="#FFFFFF" stroke-width="1.0" />
<line x1="540.1" y1="348.03" x2="683.8" y2="348.03" stroke="#FFFFFF" stroke-width="1.0" />
<line x1="540.1" y1="333.47" x2="683.8" y2="333.47" stroke="#FFFFFF" stroke-width="1.0" />
<line x1="540.1" y1="399.02" x2="683.8" y2="399.02" stroke="#F5F5F5" stroke-width="0.6" />
<line x1="540.1" y1="384.45" x2="683.8" y2="384.45" stroke="#F5F5F5" stroke-width="0.6" />
<line x1="540.1" y1="369.88" x2="683.8" y2="369.88" stroke="#F5F5F5" stroke-width="0.6" />
<line x1="540.1" y1="355.32" x2="683.8" y2="355.32" stroke="#F5F5F5" stroke-width="0.6" />
<line x1="540.1" y1="340.75" x2="683.8" y2="340.75" stroke="#F5F5F5" stroke-width="0.6" />
<line x1="540.1" y1="326.18" x2="683.8" y2="326.18" stroke="#F5F5F5" stroke-width="0.6" />
<line x1="593.8" y1="319.2" x2="593.8" y2="406.3" stroke="#FFFFFF" stroke-width="1.0" />
<line x1="631.9" y1="319.2" x2="631.9" y2="406.3" stroke="#FFFFFF" stroke-width="1.0" />
<line x1="670.6" y1="319.2" x2="670.6" y2="406.3" stroke="#FFFFFF" stroke-width="1.0" />
<text x="611.95" y="315.1" font-size="6.8" text-anchor="middle" fill="#1A1A1A" font-family="Liberation Sans, Arial, sans-serif" >QC1</text>
<line x1="537.6" y1="406.3" x2="540.1" y2="406.3" stroke="#333" stroke-width="0.8" />
<text x="536.1" y="408.8" font-size="7" text-anchor="end" fill="#4D4D4D" font-family="Liberation Sans, Arial, sans-serif" >0</text>
<line x1="537.6" y1="391.73" x2="540.1" y2="391.73" stroke="#333" stroke-width="0.8" />
<text x="536.1" y="394.23" font-size="7" text-anchor="end" fill="#4D4D4D" font-family="Liberation Sans, Arial, sans-serif" >10</text>
<line x1="537.6" y1="377.17" x2="540.1" y2="377.17" stroke="#333" stroke-width="0.8" />
<text x="536.1" y="379.67" font-size="7" text-anchor="end" fill="#4D4D4D" font-family="Liberation Sans, Arial, sans-serif" >20</text>
<line x1="537.6" y1="362.6" x2="540.1" y2="362.6" stroke="#333" stroke-width="0.8" />
<text x="536.1" y="365.1" font-size="7" text-anchor="end" fill="#4D4D4D" font-family="Liberation Sans, Arial, sans-serif" >30</text>
<line x1="537.6" y1="348.03" x2="540.1" y2="348.03" stroke="#333" stroke-width="0.8" />
<text x="536.1" y="350.53" font-size="7" text-anchor="end" fill="#4D4D4D" font-family="Liberation Sans, Arial, sans-serif" >40</text>
<line x1="537.6" y1="333.47" x2="540.1" y2="333.47" stroke="#333" stroke-width="0.8" />
<text x="536.1" y="335.97" font-size="7" text-anchor="end" fill="#4D4D4D" font-family="Liberation Sans, Arial, sans-serif" >50</text>
<line x1="537.6" y1="318.9" x2="540.1" y2="318.9" stroke="#333" stroke-width="0.8" />
<text x="536.1" y="321.4" font-size="7" text-anchor="end" fill="#4D4D4D" font-family="Liberation Sans, Arial, sans-serif" >60</text>
<text x="541.4" y="342.9" font-size="6.4" font-family="Liberation Sans, Arial, sans-serif" fill="#000">Accuracy<tspan font-size="4.6" dy="1.3">inter</tspan></text>
<text x="541.4" y="349.5" font-size="6.4" font-family="Liberation Sans, Arial, sans-serif" fill="#000">Precision<tspan font-size="4.6" dy="1.3">inter</tspan></text>
<text x="541.4" y="382.3" font-size="6.4" font-family="Liberation Sans, Arial, sans-serif" fill="#000">Accuracy<tspan font-size="4.6" dy="1.3">intra</tspan></text>
<text x="541.4" y="388.9" font-size="6.4" font-family="Liberation Sans, Arial, sans-serif" fill="#000">Precision<tspan font-size="4.6" dy="1.3">intra</tspan></text>
<text x="631.9" y="343.8" font-size="6.4" text-anchor="middle" fill="#000" font-family="Liberation Sans, Arial, sans-serif" >105.0 %</text>
<text x="631.9" y="350.4" font-size="6.4" text-anchor="middle" fill="#000" font-family="Liberation Sans, Arial, sans-serif" >6.8 %</text>
<text x="593.8" y="383.1" font-size="6.4" text-anchor="middle" fill="#000" font-family="Liberation Sans, Arial, sans-serif" >103.3 %</text>
<text x="593.8" y="389.7" font-size="6.4" text-anchor="middle" fill="#000" font-family="Liberation Sans, Arial, sans-serif" >6.1 %</text>
<text x="631.9" y="383.1" font-size="6.4" text-anchor="middle" fill="#000" font-family="Liberation Sans, Arial, sans-serif" >100.0 %</text>
<text x="631.9" y="389.7" font-size="6.4" text-anchor="middle" fill="#000" font-family="Liberation Sans, Arial, sans-serif" >4.7 %</text>
<text x="670.6" y="383.1" font-size="6.4" text-anchor="middle" fill="#000" font-family="Liberation Sans, Arial, sans-serif" >112.0 %</text>
<text x="670.6" y="389.7" font-size="6.4" text-anchor="middle" fill="#000" font-family="Liberation Sans, Arial, sans-serif" >3.8 %</text>
<line x1="540.1" y1="362.6" x2="683.8" y2="362.6" stroke="#3a3a3a" stroke-width="1.0" />
<line x1="580.5" y1="361.16" x2="607.1" y2="361.16" stroke="#A8004C" stroke-width="2.1" />
<line x1="618.6" y1="362.6" x2="645.2" y2="362.6" stroke="#3A8CC6" stroke-width="2.1" />
<line x1="657.3" y1="357.36" x2="683.9" y2="357.36" stroke="#13083F" stroke-width="2.1" />
<circle cx="591.8" cy="356.6" r="2.4" fill="#A8004C"/>
<circle cx="592.6" cy="359.1" r="2.4" fill="#A8004C"/>
<circle cx="595.1" cy="361.5" r="2.4" fill="#A8004C"/>
<circle cx="597.2" cy="363.7" r="2.4" fill="#A8004C"/>
<circle cx="593.5" cy="360.5" r="2.4" fill="#A8004C"/>
<circle cx="631.9" cy="358.3" r="2.4" fill="#3A8CC6"/>
<circle cx="630.2" cy="361.5" r="2.4" fill="#3A8CC6"/>
<circle cx="634.3" cy="364" r="2.4" fill="#3A8CC6"/>
<circle cx="636" cy="365.6" r="2.4" fill="#3A8CC6"/>
<circle cx="628.5" cy="362.4" r="2.4" fill="#3A8CC6"/>
<circle cx="667.8" cy="354.2" r="2.4" fill="#13083F"/>
<circle cx="669.5" cy="357.4" r="2.4" fill="#13083F"/>
<circle cx="671.9" cy="356.6" r="2.4" fill="#13083F"/>
<circle cx="668.7" cy="360.7" r="2.4" fill="#13083F"/>
<circle cx="670.5" cy="358" r="2.4" fill="#13083F"/>
<rect x="372.9" y="410.6" width="143.9" height="12.5" fill="#D9D9D9" />
<rect x="372.9" y="423.1" width="143.9" height="87.9" fill="#EBEBEB" />
<line x1="372.9" y1="489.1" x2="516.8" y2="489.1" stroke="#FFFFFF" stroke-width="1.0" />
<line x1="372.9" y1="467.2" x2="516.8" y2="467.2" stroke="#FFFFFF" stroke-width="1.0" />
<line x1="372.9" y1="445.3" x2="516.8" y2="445.3" stroke="#FFFFFF" stroke-width="1.0" />
<line x1="372.9" y1="500.05" x2="516.8" y2="500.05" stroke="#F5F5F5" stroke-width="0.6" />
<line x1="372.9" y1="478.15" x2="516.8" y2="478.15" stroke="#F5F5F5" stroke-width="0.6" />
<line x1="372.9" y1="456.25" x2="516.8" y2="456.25" stroke="#F5F5F5" stroke-width="0.6" />
<line x1="372.9" y1="434.35" x2="516.8" y2="434.35" stroke="#F5F5F5" stroke-width="0.6" />
<line x1="426.6" y1="423.1" x2="426.6" y2="511" stroke="#FFFFFF" stroke-width="1.0" />
<line x1="464.7" y1="423.1" x2="464.7" y2="511" stroke="#FFFFFF" stroke-width="1.0" />
<line x1="503.4" y1="423.1" x2="503.4" y2="511" stroke="#FFFFFF" stroke-width="1.0" />
<text x="444.85" y="419.7" font-size="6.8" text-anchor="middle" fill="#1A1A1A" font-family="Liberation Sans, Arial, sans-serif" >QC2</text>
<line x1="370.4" y1="511" x2="372.9" y2="511" stroke="#333" stroke-width="0.8" />
<text x="368.9" y="513.5" font-size="7" text-anchor="end" fill="#4D4D4D" font-family="Liberation Sans, Arial, sans-serif" >0</text>
<line x1="370.4" y1="489.1" x2="372.9" y2="489.1" stroke="#333" stroke-width="0.8" />
<text x="368.9" y="491.6" font-size="7" text-anchor="end" fill="#4D4D4D" font-family="Liberation Sans, Arial, sans-serif" >50</text>
<line x1="370.4" y1="467.2" x2="372.9" y2="467.2" stroke="#333" stroke-width="0.8" />
<text x="368.9" y="469.7" font-size="7" text-anchor="end" fill="#4D4D4D" font-family="Liberation Sans, Arial, sans-serif" >100</text>
<line x1="370.4" y1="445.3" x2="372.9" y2="445.3" stroke="#333" stroke-width="0.8" />
<text x="368.9" y="447.8" font-size="7" text-anchor="end" fill="#4D4D4D" font-family="Liberation Sans, Arial, sans-serif" >150</text>
<line x1="370.4" y1="423.4" x2="372.9" y2="423.4" stroke="#333" stroke-width="0.8" />
<text x="368.9" y="425.9" font-size="7" text-anchor="end" fill="#4D4D4D" font-family="Liberation Sans, Arial, sans-serif" >200</text>
<text x="374.2" y="447.4" font-size="6.4" font-family="Liberation Sans, Arial, sans-serif" fill="#000">Accuracy<tspan font-size="4.6" dy="1.3">inter</tspan></text>
<text x="374.2" y="454" font-size="6.4" font-family="Liberation Sans, Arial, sans-serif" fill="#000">Precision<tspan font-size="4.6" dy="1.3">inter</tspan></text>
<text x="374.2" y="486.8" font-size="6.4" font-family="Liberation Sans, Arial, sans-serif" fill="#000">Accuracy<tspan font-size="4.6" dy="1.3">intra</tspan></text>
<text x="374.2" y="493.4" font-size="6.4" font-family="Liberation Sans, Arial, sans-serif" fill="#000">Precision<tspan font-size="4.6" dy="1.3">intra</tspan></text>
<text x="464.7" y="448.3" font-size="6.4" text-anchor="middle" fill="#000" font-family="Liberation Sans, Arial, sans-serif" >103.0 %</text>
<text x="464.7" y="454.9" font-size="6.4" text-anchor="middle" fill="#000" font-family="Liberation Sans, Arial, sans-serif" >3.8 %</text>
<text x="426.6" y="487.6" font-size="6.4" text-anchor="middle" fill="#000" font-family="Liberation Sans, Arial, sans-serif" >101.0 %</text>
<text x="426.6" y="494.2" font-size="6.4" text-anchor="middle" fill="#000" font-family="Liberation Sans, Arial, sans-serif" >2.2 %</text>
<text x="464.7" y="487.6" font-size="6.4" text-anchor="middle" fill="#000" font-family="Liberation Sans, Arial, sans-serif" >101.0 %</text>
<text x="464.7" y="494.2" font-size="6.4" text-anchor="middle" fill="#000" font-family="Liberation Sans, Arial, sans-serif" >2.4 %</text>
<text x="503.4" y="487.6" font-size="6.4" text-anchor="middle" fill="#000" font-family="Liberation Sans, Arial, sans-serif" >107.0 %</text>
<text x="503.4" y="494.2" font-size="6.4" text-anchor="middle" fill="#000" font-family="Liberation Sans, Arial, sans-serif" >3.4 %</text>
<line x1="372.9" y1="467.2" x2="516.8" y2="467.2" stroke="#3a3a3a" stroke-width="1.0" />
<line x1="413.3" y1="466.76" x2="439.9" y2="466.76" stroke="#A8004C" stroke-width="2.1" />
<line x1="451.4" y1="466.76" x2="478" y2="466.76" stroke="#3A8CC6" stroke-width="2.1" />
<line x1="490.1" y1="464.13" x2="516.7" y2="464.13" stroke="#13083F" stroke-width="2.1" />
<circle cx="425.8" cy="465.1" r="2.4" fill="#A8004C"/>
<circle cx="427" cy="466.5" r="2.4" fill="#A8004C"/>
<circle cx="426.6" cy="468.4" r="2.4" fill="#A8004C"/>
<circle cx="428.2" cy="465.8" r="2.4" fill="#A8004C"/>
<circle cx="461" cy="464.8" r="2.4" fill="#3A8CC6"/>
<circle cx="463.4" cy="466.7" r="2.4" fill="#3A8CC6"/>
<circle cx="468.3" cy="465.1" r="2.4" fill="#3A8CC6"/>
<circle cx="467.5" cy="468.4" r="2.4" fill="#3A8CC6"/>
<circle cx="465" cy="467" r="2.4" fill="#3A8CC6"/>
<circle cx="504.3" cy="461.8" r="2.4" fill="#13083F"/>
<circle cx="505" cy="463.2" r="2.4" fill="#13083F"/>
<circle cx="501" cy="465.9" r="2.4" fill="#13083F"/>
<circle cx="500.2" cy="465" r="2.4" fill="#13083F"/>
<line x1="426.6" y1="511" x2="426.6" y2="513.5" stroke="#333" stroke-width="0.8" />
<text x="426.6" y="519.9" font-size="6.8" text-anchor="middle" fill="#333" font-family="Liberation Sans, Arial, sans-serif" >Batch-1</text>
<line x1="464.7" y1="511" x2="464.7" y2="513.5" stroke="#333" stroke-width="0.8" />
<text x="464.7" y="519.9" font-size="6.8" text-anchor="middle" fill="#333" font-family="Liberation Sans, Arial, sans-serif" >Batch-2</text>
<line x1="503.4" y1="511" x2="503.4" y2="513.5" stroke="#333" stroke-width="0.8" />
<text x="503.4" y="519.9" font-size="6.8" text-anchor="middle" fill="#333" font-family="Liberation Sans, Arial, sans-serif" >Batch-3</text>
<rect x="540.1" y="410.6" width="143.7" height="12.5" fill="#D9D9D9" />
<rect x="540.1" y="423.1" width="143.7" height="87.9" fill="#EBEBEB" />
<line x1="540.1" y1="481.8" x2="683.8" y2="481.8" stroke="#FFFFFF" stroke-width="1.0" />
<line x1="540.1" y1="452.6" x2="683.8" y2="452.6" stroke="#FFFFFF" stroke-width="1.0" />
<line x1="540.1" y1="496.4" x2="683.8" y2="496.4" stroke="#F5F5F5" stroke-width="0.6" />
<line x1="540.1" y1="467.2" x2="683.8" y2="467.2" stroke="#F5F5F5" stroke-width="0.6" />
<line x1="540.1" y1="438" x2="683.8" y2="438" stroke="#F5F5F5" stroke-width="0.6" />
<line x1="593.8" y1="423.1" x2="593.8" y2="511" stroke="#FFFFFF" stroke-width="1.0" />
<line x1="631.9" y1="423.1" x2="631.9" y2="511" stroke="#FFFFFF" stroke-width="1.0" />
<line x1="670.6" y1="423.1" x2="670.6" y2="511" stroke="#FFFFFF" stroke-width="1.0" />
<text x="611.95" y="419.7" font-size="6.8" text-anchor="middle" fill="#1A1A1A" font-family="Liberation Sans, Arial, sans-serif" >QC3</text>
<line x1="537.6" y1="511" x2="540.1" y2="511" stroke="#333" stroke-width="0.8" />
<text x="536.1" y="513.5" font-size="7" text-anchor="end" fill="#4D4D4D" font-family="Liberation Sans, Arial, sans-serif" >0</text>
<line x1="537.6" y1="481.8" x2="540.1" y2="481.8" stroke="#333" stroke-width="0.8" />
<text x="536.1" y="484.3" font-size="7" text-anchor="end" fill="#4D4D4D" font-family="Liberation Sans, Arial, sans-serif" >500</text>
<line x1="537.6" y1="452.6" x2="540.1" y2="452.6" stroke="#333" stroke-width="0.8" />
<text x="536.1" y="455.1" font-size="7" text-anchor="end" fill="#4D4D4D" font-family="Liberation Sans, Arial, sans-serif" >1000</text>
<line x1="537.6" y1="423.4" x2="540.1" y2="423.4" stroke="#333" stroke-width="0.8" />
<text x="536.1" y="425.9" font-size="7" text-anchor="end" fill="#4D4D4D" font-family="Liberation Sans, Arial, sans-serif" >1500</text>
<text x="541.4" y="447.4" font-size="6.4" font-family="Liberation Sans, Arial, sans-serif" fill="#000">Accuracy<tspan font-size="4.6" dy="1.3">inter</tspan></text>
<text x="541.4" y="454" font-size="6.4" font-family="Liberation Sans, Arial, sans-serif" fill="#000">Precision<tspan font-size="4.6" dy="1.3">inter</tspan></text>
<text x="541.4" y="486.8" font-size="6.4" font-family="Liberation Sans, Arial, sans-serif" fill="#000">Accuracy<tspan font-size="4.6" dy="1.3">intra</tspan></text>
<text x="541.4" y="493.4" font-size="6.4" font-family="Liberation Sans, Arial, sans-serif" fill="#000">Precision<tspan font-size="4.6" dy="1.3">intra</tspan></text>
<text x="631.9" y="448.3" font-size="6.4" text-anchor="middle" fill="#000" font-family="Liberation Sans, Arial, sans-serif" >104.9 %</text>
<text x="631.9" y="454.9" font-size="6.4" text-anchor="middle" fill="#000" font-family="Liberation Sans, Arial, sans-serif" >2.2 %</text>
<text x="593.8" y="487.6" font-size="6.4" text-anchor="middle" fill="#000" font-family="Liberation Sans, Arial, sans-serif" >103.7 %</text>
<text x="593.8" y="494.2" font-size="6.4" text-anchor="middle" fill="#000" font-family="Liberation Sans, Arial, sans-serif" >1.9 %</text>
<text x="631.9" y="487.6" font-size="6.4" text-anchor="middle" fill="#000" font-family="Liberation Sans, Arial, sans-serif" >104.0 %</text>
<text x="631.9" y="494.2" font-size="6.4" text-anchor="middle" fill="#000" font-family="Liberation Sans, Arial, sans-serif" >1.3 %</text>
<text x="670.6" y="487.6" font-size="6.4" text-anchor="middle" fill="#000" font-family="Liberation Sans, Arial, sans-serif" >106.9 %</text>
<text x="670.6" y="494.2" font-size="6.4" text-anchor="middle" fill="#000" font-family="Liberation Sans, Arial, sans-serif" >1.9 %</text>
<line x1="540.1" y1="467.2" x2="683.8" y2="467.2" stroke="#3a3a3a" stroke-width="1.0" />
<line x1="580.5" y1="465.58" x2="607.1" y2="465.58" stroke="#A8004C" stroke-width="2.1" />
<line x1="618.6" y1="465.45" x2="645.2" y2="465.45" stroke="#3A8CC6" stroke-width="2.1" />
<line x1="657.3" y1="464.18" x2="683.9" y2="464.18" stroke="#13083F" stroke-width="2.1" />
<circle cx="591" cy="463.8" r="2.4" fill="#A8004C"/>
<circle cx="592.6" cy="465.9" r="2.4" fill="#A8004C"/>
<circle cx="595.9" cy="465.9" r="2.4" fill="#A8004C"/>
<circle cx="591.8" cy="466.5" r="2.4" fill="#A8004C"/>
<circle cx="632.7" cy="464.3" r="2.4" fill="#3A8CC6"/>
<circle cx="634.3" cy="465.4" r="2.4" fill="#3A8CC6"/>
<circle cx="633.5" cy="466.5" r="2.4" fill="#3A8CC6"/>
<circle cx="669.5" cy="462.6" r="2.4" fill="#13083F"/>
<circle cx="671.1" cy="464.3" r="2.4" fill="#13083F"/>
<circle cx="672.7" cy="464.3" r="2.4" fill="#13083F"/>
<circle cx="668" cy="463.8" r="2.4" fill="#13083F"/>
<line x1="593.8" y1="511" x2="593.8" y2="513.5" stroke="#333" stroke-width="0.8" />
<text x="593.8" y="519.9" font-size="6.8" text-anchor="middle" fill="#333" font-family="Liberation Sans, Arial, sans-serif" >Batch-1</text>
<line x1="631.9" y1="511" x2="631.9" y2="513.5" stroke="#333" stroke-width="0.8" />
<text x="631.9" y="519.9" font-size="6.8" text-anchor="middle" fill="#333" font-family="Liberation Sans, Arial, sans-serif" >Batch-2</text>
<line x1="670.6" y1="511" x2="670.6" y2="513.5" stroke="#333" stroke-width="0.8" />
<text x="670.6" y="519.9" font-size="6.8" text-anchor="middle" fill="#333" font-family="Liberation Sans, Arial, sans-serif" >Batch-3</text>
<text x="186" y="300.2" font-size="10.1" text-anchor="middle" fill="#000" font-family="Liberation Sans, Arial, sans-serif" >AER001</text>
<text x="528.1" y="300.2" font-size="10.1" text-anchor="middle" fill="#000" font-family="Liberation Sans, Arial, sans-serif" >AER002</text>
<text x="9.6" y="300.5" font-size="11.5" text-anchor="start" fill="#000" font-family="Liberation Sans, Arial, sans-serif" >d</text>
<text x="354.3" y="300.5" font-size="11.5" text-anchor="start" fill="#000" font-family="Liberation Sans, Arial, sans-serif" >e</text>
<text transform="translate(11.5,413.5) rotate(-90)" font-size="8.6" text-anchor="middle" font-family="Liberation Sans, Arial, sans-serif" fill="#000">Calculated [ng/mL]</text>
<text transform="translate(353.5,413.5) rotate(-90)" font-size="8.6" text-anchor="middle" font-family="Liberation Sans, Arial, sans-serif" fill="#000">Calculated [ng/mL]</text>
<polygon points="377.89,55.16 379.5,48.73 381.11,34.8 382.18,20.86 382.72,16.04 383.79,15.5 384.65,16.57 385.4,13.89 386.15,12.5 386.79,12.82 387.54,16.57 388.08,29.44 388.61,35.33 389.68,36.4 390.76,40.15 391.51,48.73 392.9,53.02 394.51,55.7 395.58,56.48 396.65,57.84 397.2,58.2 376.3,61.6" fill="#D6D6F8" stroke="none"/>
<path d="M295.8,61 L297.5,60.2 L297.77,60.8 L299.44,56.92 L300.55,60.53 L301.93,61.08 L303.32,60.11 L304.71,61.08 L305.75,61.07 L306.79,60.8 L307.83,61.18 L308.87,61.08 L310.26,61.24 L311.64,60.8 L313.03,61.45 L314.42,61.22 L315.8,61.32 L317.19,60.94 L318.58,61.5 L319.97,61.22 L321.35,60.54 L322.74,60.8 L323.78,60.63 L324.82,60.53 L326.21,59.42 L327.59,58.72 L328.98,60.11 L330.37,61.08 L331.75,61.59 L333.14,61.22 L334.3,61.23 L335.45,61.34 L336.61,60.8 L337.65,60.21 L338.69,60.39 L339.73,60.7 L340.77,61.08 L342.16,60.27 L343.54,59.97 L344.58,60.43 L345.62,60.8 L347.01,61.02 L348.4,61.08 L349.79,60.46 L351.17,60.8 L352.21,60.31 L353.25,60.39 L354.29,59.68 L355.33,59.42 L356.37,60.53 L357.41,60.8 L358.8,61.21 L360.19,61.08 L361.23,60.39 L362.27,60.39 L363.31,61.03 L364.35,61.08 L365.39,60.3 L366.43,60.25 L367.47,60.85 L368.51,61.22 L369.9,60.92 L371.28,61.36 L372.67,60.72 L374.06,61.08 L375.17,61.17 L376.29,60.52 L377.89,55.16 L379.5,48.73 L381.11,34.8 L382.18,20.86 L382.72,16.04 L383.79,15.5 L384.65,16.57 L385.4,13.89 L386.15,12.5 L386.79,12.82 L387.54,16.57 L388.08,29.44 L388.61,35.33 L389.68,36.4 L390.76,40.15 L391.51,48.73 L392.9,53.02 L394.51,55.7 L395.58,56.48 L396.65,57.84 L398.26,60.52 L399.33,61.59 L400.4,59.98 L401.99,59.12 L403.41,59.89 L404.82,61.24 L405.89,61.37 L406.95,60.53 L408.36,61.61 L409.78,61.95 L410.96,61.5 L412.14,61.8 L413.32,61.24 L414.5,61.37 L415.68,61.61 L416.86,61.52 L418.04,60.66 L419.22,60.83 L420.4,59.82 L421.82,61.08 L423.23,61.95 L424.29,61.8 L425.36,61.24 L426.42,60.57 L427.48,59.12 L428.9,59.98 L430.31,61.24 L431.37,61.1 L432.44,60.91 L433.5,60.89 L434.56,61.24 L435.74,60.95 L436.92,61.33 L438.1,61.67 L439.28,61.63 L440.46,60.89 L441.64,61.24 L443.06,61.63 L444.47,61.67 L445.89,61.29 L447.31,61.24 L448.49,60.34 L449.67,60.14 L450.85,59.12 L452.03,59.81 L453.21,60.35 L454.39,61.24 L455.57,61.32 L456.75,61.63 L457.93,61.52 L459.11,60.75 L460.29,61.34 L461.47,60.53 L462.88,60.55 L464.3,61.52 L465.71,61.8 L467.13,61.95 L468.55,61.59 L469.96,60.53 L471.38,60.76 L472.79,61.95 L474.21,60.82 L475.63,59.12 L477.04,57.92 L478.46,56.99 L479.52,57.07 L480.58,56.99" fill="none" stroke="#6060F0" stroke-width="0.8" stroke-linejoin="round"/>
<line x1="376.3" y1="61.6" x2="397.2" y2="58.2" stroke="#F06868" stroke-width="0.75" />
<line x1="295.6" y1="11.8" x2="295.6" y2="62" stroke="#7a7a7a" stroke-width="0.8" />
<line x1="295.6" y1="62" x2="480.5" y2="62" stroke="#7a7a7a" stroke-width="0.9" />
<line x1="293.8" y1="62" x2="295.6" y2="62" stroke="#666" stroke-width="0.6" />
<text x="293.4" y="64" font-size="7.3" text-anchor="end" fill="#1a1a1a" font-family="DejaVu Sans Condensed, DejaVu Sans, sans-serif"  stroke="#1a1a1a" stroke-width="0.22">0</text>
<line x1="293.8" y1="49.1" x2="295.6" y2="49.1" stroke="#666" stroke-width="0.6" />
<text x="293.4" y="51.1" font-size="7.3" text-anchor="end" fill="#1a1a1a" font-family="DejaVu Sans Condensed, DejaVu Sans, sans-serif"  stroke="#1a1a1a" stroke-width="0.22">500</text>
<line x1="293.8" y1="36.2" x2="295.6" y2="36.2" stroke="#666" stroke-width="0.6" />
<text x="293.4" y="38.2" font-size="7.3" text-anchor="end" fill="#1a1a1a" font-family="DejaVu Sans Condensed, DejaVu Sans, sans-serif"  stroke="#1a1a1a" stroke-width="0.22">1000</text>
<line x1="293.8" y1="23.3" x2="295.6" y2="23.3" stroke="#666" stroke-width="0.6" />
<text x="293.4" y="25.3" font-size="7.3" text-anchor="end" fill="#1a1a1a" font-family="DejaVu Sans Condensed, DejaVu Sans, sans-serif"  stroke="#1a1a1a" stroke-width="0.22">1500</text>
<line x1="294.6" y1="55.55" x2="295.6" y2="55.55" stroke="#888" stroke-width="0.5" />
<line x1="294.6" y1="42.65" x2="295.6" y2="42.65" stroke="#888" stroke-width="0.5" />
<line x1="294.6" y1="29.75" x2="295.6" y2="29.75" stroke="#888" stroke-width="0.5" />
<line x1="294.6" y1="16.85" x2="295.6" y2="16.85" stroke="#888" stroke-width="0.5" />
<line x1="295.84" y1="62" x2="295.84" y2="62.9" stroke="#999" stroke-width="0.5" />
<line x1="305.04" y1="62" x2="305.04" y2="63.6" stroke="#777" stroke-width="0.6" />
<line x1="314.24" y1="62" x2="314.24" y2="62.9" stroke="#999" stroke-width="0.5" />
<line x1="323.45" y1="62" x2="323.45" y2="63.6" stroke="#777" stroke-width="0.6" />
<line x1="332.65" y1="62" x2="332.65" y2="62.9" stroke="#999" stroke-width="0.5" />
<line x1="341.85" y1="62" x2="341.85" y2="63.6" stroke="#777" stroke-width="0.6" />
<line x1="351.05" y1="62" x2="351.05" y2="62.9" stroke="#999" stroke-width="0.5" />
<line x1="360.25" y1="62" x2="360.25" y2="63.6" stroke="#777" stroke-width="0.6" />
<line x1="369.45" y1="62" x2="369.45" y2="62.9" stroke="#999" stroke-width="0.5" />
<line x1="378.66" y1="62" x2="378.66" y2="63.6" stroke="#777" stroke-width="0.6" />
<line x1="387.86" y1="62" x2="387.86" y2="62.9" stroke="#999" stroke-width="0.5" />
<line x1="397.06" y1="62" x2="397.06" y2="63.6" stroke="#777" stroke-width="0.6" />
<line x1="406.26" y1="62" x2="406.26" y2="62.9" stroke="#999" stroke-width="0.5" />
<line x1="415.46" y1="62" x2="415.46" y2="63.6" stroke="#777" stroke-width="0.6" />
<line x1="424.67" y1="62" x2="424.67" y2="62.9" stroke="#999" stroke-width="0.5" />
<line x1="433.87" y1="62" x2="433.87" y2="63.6" stroke="#777" stroke-width="0.6" />
<line x1="443.07" y1="62" x2="443.07" y2="62.9" stroke="#999" stroke-width="0.5" />
<line x1="452.27" y1="62" x2="452.27" y2="63.6" stroke="#777" stroke-width="0.6" />
<line x1="461.47" y1="62" x2="461.47" y2="62.9" stroke="#999" stroke-width="0.5" />
<line x1="470.67" y1="62" x2="470.67" y2="63.6" stroke="#777" stroke-width="0.6" />
<line x1="479.88" y1="62" x2="479.88" y2="62.9" stroke="#999" stroke-width="0.5" />
<text x="390.2" y="19.4" font-size="7.3" text-anchor="start" fill="#1a1a1a" font-family="DejaVu Sans Condensed, DejaVu Sans, sans-serif"  stroke="#1a1a1a" stroke-width="0.22">3.13</text>
<polygon points="588.54,54.67 589.23,57.45 589.42,50.48 590.12,46.94 591.12,50.48 592.25,46.94 593.2,57.8 588.3,57.8" fill="#D6D6F8" stroke="none"/>
<path d="M497.69,60.92 L499.08,56.75 L500.47,53.29 L501.51,52.5 L502.55,53.29 L503.59,48.75 L504.63,45.66 L506.02,47.74 L507.4,57.45 L508.79,52.59 L509.76,53.98 L510.87,58.83 L512.26,57.45 L513.64,60.92 L515.03,60.22 L516.07,56.94 L517.11,54.67 L518.5,56.75 L519.88,59.53 L521.27,59.53 L522.66,56.06 L524.05,59.53 L525.09,56.79 L526.13,52.59 L527.51,57.45 L528.9,58.83 L529.94,56.96 L530.98,56.06 L532.37,53.98 L533.75,60.92 L534.79,58.2 L535.83,54.67 L537.5,49.82 L538.89,54.67 L540.27,59.53 L541.66,54.67 L543.05,57.45 L544.85,56.75 L546.24,58.14 L547.62,56.75 L549.43,45.66 L550.81,50.51 L552.2,52.59 L553.17,49.13 L554.56,44.97 L555.95,49.13 L557.33,55.37 L558.72,57.45 L560.11,51.21 L561.49,53.29 L562.88,58.83 L564.68,48.43 L566.07,56.06 L567.46,58.14 L569.12,54.67 L570.51,52.59 L571.9,49.13 L573.28,60.22 L574.67,57.45 L575.71,55.36 L576.75,51.9 L578.14,55.37 L579.52,56.75 L580.91,40.8 L581.88,32.48 L582.99,44.97 L584.1,57.45 L585.77,47.74 L587.15,42.19 L588.54,54.67 L589.23,57.45 L589.42,50.48 L590.12,46.94 L591.12,50.48 L592.25,46.94 L593.38,57.56 L595.08,54.73 L596.5,51.9 L598.2,47.65 L599.33,54.73 L600.74,58.98 L601.81,60.39 L602.87,60.39 L603.93,57.31 L604.99,54.73 L606.41,58.27 L607.82,54.73 L609.24,58.27 L610.66,56.85 L612.07,57.56 L613.49,58.98 L614.9,56.15 L615.97,53.43 L617.03,51.19 L618.44,56.85 L619.86,58.27 L620.92,55.83 L621.98,53.31 L623.05,52.34 L624.11,50.48 L625.52,51.9 L626.94,53.31 L628.36,51.9 L629.77,50.48 L631.19,56.15 L632.6,54.73 L634.02,56.85 L635.44,54.73 L636.85,53.31 L638.27,57.56 L639.69,58.98 L641.1,54.73 L642.94,50.48 L644.36,56.85 L646.06,58.27 L647.47,56.15 L649.17,50.48 L651.01,56.15 L652.08,57.29 L653.14,59.69 L654.55,58.98 L655.62,56.54 L656.68,53.31 L658.09,56.15 L659.51,59.69 L660.57,60.87 L661.63,61.1 L662.7,59.55 L663.76,56.85 L664.82,54.34 L665.88,53.31 L667.16,52.26 L668.43,49.77 L670.13,56.15 L671.55,60.39 L672.96,56.85 L674.38,58.27 L675.44,56.55 L676.5,56.15 L677.49,40.57 L678.34,27.82 L679.33,29.95 L680.33,16.5 L680.89,11.54 L681.46,19.33 L682.17,36.32 L682.87,39.86 L683.58,34.9" fill="none" stroke="#6060F0" stroke-width="0.8" stroke-linejoin="round"/>
<line x1="588.3" y1="58" x2="593" y2="58.3" stroke="#F06868" stroke-width="0.75" />
<line x1="498.2" y1="11" x2="498.2" y2="61.4" stroke="#7a7a7a" stroke-width="0.8" />
<line x1="498.2" y1="61.4" x2="683.5" y2="61.4" stroke="#7a7a7a" stroke-width="0.9" />
<line x1="496.4" y1="61.4" x2="498.2" y2="61.4" stroke="#666" stroke-width="0.6" />
<text x="496" y="63.4" font-size="7.3" text-anchor="end" fill="#1a1a1a" font-family="DejaVu Sans Condensed, DejaVu Sans, sans-serif"  stroke="#1a1a1a" stroke-width="0.22">0</text>
<line x1="496.4" y1="46.7" x2="498.2" y2="46.7" stroke="#666" stroke-width="0.6" />
<text x="496" y="48.7" font-size="7.3" text-anchor="end" fill="#1a1a1a" font-family="DejaVu Sans Condensed, DejaVu Sans, sans-serif"  stroke="#1a1a1a" stroke-width="0.22">100</text>
<line x1="496.4" y1="32" x2="498.2" y2="32" stroke="#666" stroke-width="0.6" />
<text x="496" y="34" font-size="7.3" text-anchor="end" fill="#1a1a1a" font-family="DejaVu Sans Condensed, DejaVu Sans, sans-serif"  stroke="#1a1a1a" stroke-width="0.22">200</text>
<line x1="496.4" y1="17.3" x2="498.2" y2="17.3" stroke="#666" stroke-width="0.6" />
<text x="496" y="19.3" font-size="7.3" text-anchor="end" fill="#1a1a1a" font-family="DejaVu Sans Condensed, DejaVu Sans, sans-serif"  stroke="#1a1a1a" stroke-width="0.22">300</text>
<line x1="497.2" y1="54.05" x2="498.2" y2="54.05" stroke="#888" stroke-width="0.5" />
<line x1="497.2" y1="39.35" x2="498.2" y2="39.35" stroke="#888" stroke-width="0.5" />
<line x1="497.2" y1="24.65" x2="498.2" y2="24.65" stroke="#888" stroke-width="0.5" />
<line x1="507.4" y1="61.4" x2="507.4" y2="63" stroke="#777" stroke-width="0.6" />
<line x1="516.64" y1="61.4" x2="516.64" y2="62.3" stroke="#999" stroke-width="0.5" />
<line x1="525.88" y1="61.4" x2="525.88" y2="63" stroke="#777" stroke-width="0.6" />
<line x1="535.12" y1="61.4" x2="535.12" y2="62.3" stroke="#999" stroke-width="0.5" />
<line x1="544.36" y1="61.4" x2="544.36" y2="63" stroke="#777" stroke-width="0.6" />
<line x1="553.6" y1="61.4" x2="553.6" y2="62.3" stroke="#999" stroke-width="0.5" />
<line x1="562.84" y1="61.4" x2="562.84" y2="63" stroke="#777" stroke-width="0.6" />
<line x1="572.08" y1="61.4" x2="572.08" y2="62.3" stroke="#999" stroke-width="0.5" />
<line x1="581.32" y1="61.4" x2="581.32" y2="63" stroke="#777" stroke-width="0.6" />
<line x1="590.56" y1="61.4" x2="590.56" y2="62.3" stroke="#999" stroke-width="0.5" />
<line x1="599.8" y1="61.4" x2="599.8" y2="63" stroke="#777" stroke-width="0.6" />
<line x1="609.04" y1="61.4" x2="609.04" y2="62.3" stroke="#999" stroke-width="0.5" />
<line x1="618.28" y1="61.4" x2="618.28" y2="63" stroke="#777" stroke-width="0.6" />
<line x1="627.52" y1="61.4" x2="627.52" y2="62.3" stroke="#999" stroke-width="0.5" />
<line x1="636.76" y1="61.4" x2="636.76" y2="63" stroke="#777" stroke-width="0.6" />
<line x1="646" y1="61.4" x2="646" y2="62.3" stroke="#999" stroke-width="0.5" />
<line x1="655.24" y1="61.4" x2="655.24" y2="63" stroke="#777" stroke-width="0.6" />
<line x1="664.48" y1="61.4" x2="664.48" y2="62.3" stroke="#999" stroke-width="0.5" />
<line x1="673.72" y1="61.4" x2="673.72" y2="63" stroke="#777" stroke-width="0.6" />
<line x1="682.96" y1="61.4" x2="682.96" y2="62.3" stroke="#999" stroke-width="0.5" />
<text x="589" y="41.3" font-size="7.3" text-anchor="start" fill="#1a1a1a" font-family="DejaVu Sans Condensed, DejaVu Sans, sans-serif"  stroke="#1a1a1a" stroke-width="0.22">3.16</text>
<path d="M296.11,89.42 L296.66,97.74 L297.77,115.77 L299.16,122.01 L300.2,121.41 L301.24,121.32 L302.63,111.61 L304.43,90.11 L306.1,108.83 L307.76,121.32 L308.87,123.4 L310.26,118.54 L311.37,115.77 L312.34,119.24 L313.03,118.54 L314.42,117.85 L315.53,121.32 L316.5,123.4 L317.88,119.93 L319.27,111.61 L320.24,103.29 L321.35,114.38 L322.74,123.4 L323.78,122.19 L324.82,120.62 L325.86,118.87 L326.9,115.77 L328.29,113 L329.4,117.85 L330.37,117.85 L331.75,115.77 L333.14,114.38 L334.11,117.16 L335.22,116.46 L336.33,117.85 L337.3,115.77 L338.27,118.54 L339.38,119.24 L340.49,117.16 L341.46,117.85 L342.85,114.38 L344.51,109.53 L345.62,115.77 L346.32,119.93 L347.7,113.69 L348.81,117.16 L349.79,119.93 L351.17,117.16 L352.21,120.02 L353.25,123.4 L354.64,119.93 L356.03,115.08 L357.41,119.93 L358.8,123.4 L360.19,120.62 L361.57,117.85 L362.68,121.32 L363.65,122.7 L364.76,121.32 L365.74,119.93 L367.12,117.85 L368.51,115.77 L369.9,119.24 L371.56,103.98 L372.67,111.61 L373.36,117.16 L374.33,114.38 L375.44,111.61 L376.55,113 L377.52,114.38 L378.5,118.54 L379.6,122.7 L380.99,118.54 L382.03,116.45 L383.07,113 L384.04,115.77 L385.15,118.54 L386.26,116.46 L387.23,117.16 L388.62,118.54 L386.42,119.56 L387.83,116.73 L389.25,120.27 L390.31,115.74 L391.37,111.06 L392.36,108.94 L393.21,107.52 L393.78,112.48 L394.91,123.1 L395.97,122.45 L397.04,122.39 L398.45,115.31 L399.87,108.94 L401.28,116.73 L402.7,123.1 L403.76,122.45 L404.82,122.39 L406.24,119.56 L407.3,118.34 L408.36,118.15 L409.43,115.7 L410.49,114.6 L411.9,118.15 L412.97,116.17 L414.03,115.31 L415.44,118.85 L416.51,119.51 L417.57,119.56 L418.63,118.94 L419.69,116.73 L421.11,120.27 L422.17,115.83 L423.23,112.48 L424.29,111.4 L425.36,111.77 L426.77,115.31 L428.19,114.6 L429.6,119.56 L430.6,112.48 L431.45,99.03 L432.3,106.82 L432.86,112.48 L433.85,120.98 L435.27,122.39 L436.69,118.15 L438.1,113.19 L439.52,122.39 L440.58,123.53 L441.64,123.1 L442.7,121.03 L443.77,118.85 L445.18,122.39 L446.24,120.83 L447.31,119.56 L448.37,120.2 L449.43,121.69 L450.49,121.13 L451.55,120.27 L452.62,121.85 L453.68,122.39 L454.74,120.2 L455.8,118.15 L457.5,111.06 L458.92,122.39 L460.76,122.39 L462.17,116.73 L463.59,116.02 L465.01,121.69 L466.42,108.94 L467.84,120.98 L469.25,122.39 L470.67,119.56 L472.09,120.27 L473.5,118.15 L475.34,112.48 L476.33,105.4 L477.04,95.49 L477.61,86.99 L478.17,78.5 L479.17,74.25 L480.16,72.12" fill="none" stroke="#6060F0" stroke-width="0.8" stroke-linejoin="round"/>
<line x1="390" y1="119.5" x2="392.2" y2="112" stroke="#F06868" stroke-width="0.75" />
<line x1="295.9" y1="73.6" x2="295.9" y2="124" stroke="#7a7a7a" stroke-width="0.8" />
<line x1="295.9" y1="124" x2="480.5" y2="124" stroke="#7a7a7a" stroke-width="0.9" />
<line x1="294.1" y1="124" x2="295.9" y2="124" stroke="#666" stroke-width="0.6" />
<text x="293.7" y="126" font-size="7.3" text-anchor="end" fill="#1a1a1a" font-family="DejaVu Sans Condensed, DejaVu Sans, sans-serif"  stroke="#1a1a1a" stroke-width="0.22">0</text>
<line x1="294.1" y1="108.9" x2="295.9" y2="108.9" stroke="#666" stroke-width="0.6" />
<text x="293.7" y="110.9" font-size="7.3" text-anchor="end" fill="#1a1a1a" font-family="DejaVu Sans Condensed, DejaVu Sans, sans-serif"  stroke="#1a1a1a" stroke-width="0.22">100</text>
<line x1="294.1" y1="93.8" x2="295.9" y2="93.8" stroke="#666" stroke-width="0.6" />
<text x="293.7" y="95.8" font-size="7.3" text-anchor="end" fill="#1a1a1a" font-family="DejaVu Sans Condensed, DejaVu Sans, sans-serif"  stroke="#1a1a1a" stroke-width="0.22">200</text>
<line x1="294.1" y1="78.7" x2="295.9" y2="78.7" stroke="#666" stroke-width="0.6" />
<text x="293.7" y="80.7" font-size="7.3" text-anchor="end" fill="#1a1a1a" font-family="DejaVu Sans Condensed, DejaVu Sans, sans-serif"  stroke="#1a1a1a" stroke-width="0.22">300</text>
<line x1="294.9" y1="116.45" x2="295.9" y2="116.45" stroke="#888" stroke-width="0.5" />
<line x1="294.9" y1="101.35" x2="295.9" y2="101.35" stroke="#888" stroke-width="0.5" />
<line x1="294.9" y1="86.25" x2="295.9" y2="86.25" stroke="#888" stroke-width="0.5" />
<line x1="305.04" y1="124" x2="305.04" y2="125.6" stroke="#777" stroke-width="0.6" />
<line x1="314.24" y1="124" x2="314.24" y2="124.9" stroke="#999" stroke-width="0.5" />
<line x1="323.45" y1="124" x2="323.45" y2="125.6" stroke="#777" stroke-width="0.6" />
<line x1="332.65" y1="124" x2="332.65" y2="124.9" stroke="#999" stroke-width="0.5" />
<line x1="341.85" y1="124" x2="341.85" y2="125.6" stroke="#777" stroke-width="0.6" />
<line x1="351.05" y1="124" x2="351.05" y2="124.9" stroke="#999" stroke-width="0.5" />
<line x1="360.25" y1="124" x2="360.25" y2="125.6" stroke="#777" stroke-width="0.6" />
<line x1="369.45" y1="124" x2="369.45" y2="124.9" stroke="#999" stroke-width="0.5" />
<line x1="378.66" y1="124" x2="378.66" y2="125.6" stroke="#777" stroke-width="0.6" />
<line x1="387.86" y1="124" x2="387.86" y2="124.9" stroke="#999" stroke-width="0.5" />
<line x1="397.06" y1="124" x2="397.06" y2="125.6" stroke="#777" stroke-width="0.6" />
<line x1="406.26" y1="124" x2="406.26" y2="124.9" stroke="#999" stroke-width="0.5" />
<line x1="415.46" y1="124" x2="415.46" y2="125.6" stroke="#777" stroke-width="0.6" />
<line x1="424.67" y1="124" x2="424.67" y2="124.9" stroke="#999" stroke-width="0.5" />
<line x1="433.87" y1="124" x2="433.87" y2="125.6" stroke="#777" stroke-width="0.6" />
<line x1="443.07" y1="124" x2="443.07" y2="124.9" stroke="#999" stroke-width="0.5" />
<line x1="452.27" y1="124" x2="452.27" y2="125.6" stroke="#777" stroke-width="0.6" />
<line x1="461.47" y1="124" x2="461.47" y2="124.9" stroke="#999" stroke-width="0.5" />
<line x1="470.67" y1="124" x2="470.67" y2="125.6" stroke="#777" stroke-width="0.6" />
<line x1="479.88" y1="124" x2="479.88" y2="124.9" stroke="#999" stroke-width="0.5" />
<text x="305.4" y="133.4" font-size="7.3" text-anchor="middle" fill="#1a1a1a" font-family="DejaVu Sans Condensed, DejaVu Sans, sans-serif"  stroke="#1a1a1a" stroke-width="0.22">2.7</text>
<text x="323.2" y="133.4" font-size="7.3" text-anchor="middle" fill="#1a1a1a" font-family="DejaVu Sans Condensed, DejaVu Sans, sans-serif"  stroke="#1a1a1a" stroke-width="0.22">2.8</text>
<text x="342.2" y="133.4" font-size="7.3" text-anchor="middle" fill="#1a1a1a" font-family="DejaVu Sans Condensed, DejaVu Sans, sans-serif"  stroke="#1a1a1a" stroke-width="0.22">2.9</text>
<text x="360.2" y="133.4" font-size="7.3" text-anchor="middle" fill="#1a1a1a" font-family="DejaVu Sans Condensed, DejaVu Sans, sans-serif"  stroke="#1a1a1a" stroke-width="0.22">3.0</text>
<text x="377.9" y="133.4" font-size="7.3" text-anchor="middle" fill="#1a1a1a" font-family="DejaVu Sans Condensed, DejaVu Sans, sans-serif"  stroke="#1a1a1a" stroke-width="0.22">3.1</text>
<text x="397" y="133.4" font-size="7.3" text-anchor="middle" fill="#1a1a1a" font-family="DejaVu Sans Condensed, DejaVu Sans, sans-serif"  stroke="#1a1a1a" stroke-width="0.22">3.2</text>
<text x="415.4" y="133.4" font-size="7.3" text-anchor="middle" fill="#1a1a1a" font-family="DejaVu Sans Condensed, DejaVu Sans, sans-serif"  stroke="#1a1a1a" stroke-width="0.22">3.3</text>
<text x="434.3" y="133.4" font-size="7.3" text-anchor="middle" fill="#1a1a1a" font-family="DejaVu Sans Condensed, DejaVu Sans, sans-serif"  stroke="#1a1a1a" stroke-width="0.22">3.4</text>
<text x="452.3" y="133.4" font-size="7.3" text-anchor="middle" fill="#1a1a1a" font-family="DejaVu Sans Condensed, DejaVu Sans, sans-serif"  stroke="#1a1a1a" stroke-width="0.22">3.5</text>
<text x="470.7" y="133.4" font-size="7.3" text-anchor="middle" fill="#1a1a1a" font-family="DejaVu Sans Condensed, DejaVu Sans, sans-serif"  stroke="#1a1a1a" stroke-width="0.22">3.6</text>
<text x="384" y="102.6" font-size="7.3" text-anchor="start" fill="#1a1a1a" font-family="DejaVu Sans Condensed, DejaVu Sans, sans-serif"  stroke="#1a1a1a" stroke-width="0.22">3.16</text>
<path d="M498.39,118.29 L499.77,117.59 L501.16,114.82 L502.55,113.43 L503.93,118.98 L505.32,121.75 L506.71,121.75 L508.1,118.98 L509.48,118.29 L510.59,114.13 L511.56,109.97 L512.95,112.74 L514.34,114.13 L515.72,115.51 L517.11,121.06 L518.15,120.94 L519.19,121.06 L520.23,120 L521.27,120.37 L522.31,119.99 L523.35,118.29 L524.74,120.37 L526.13,118.98 L527.51,120.37 L528.55,119.97 L529.59,121.06 L530.63,121.4 L531.67,121.75 L533.06,118.98 L534.45,116.21 L535.83,116.9 L536.94,114.82 L538.61,119.67 L540,117.59 L541.66,116.21 L543.46,116.21 L544.85,112.74 L546.24,116.9 L547.28,114.67 L548.32,111.35 L549.43,109.27 L550.4,116.9 L551.79,114.82 L553.17,118.29 L554.56,121.06 L555.95,112.05 L557.33,114.13 L558.72,117.59 L559.76,117.35 L560.8,118.29 L561.84,119.35 L562.88,119.67 L563.92,120.74 L564.96,120.37 L566,119.88 L567.04,118.98 L568.43,118.29 L569.47,115.97 L570.51,112.74 L571.55,111.76 L572.59,112.05 L573.98,118.29 L575.36,118.98 L576.75,116.21 L578.14,114.82 L579.52,116.9 L580.91,114.13 L582.3,115.51 L583.69,110.66 L584.73,110.9 L585.77,111.35 L587.15,112.05 L588.54,116.9 L589.93,118.98 L589.42,118.85 L590.48,119.35 L591.54,120.98 L592.6,121.88 L593.66,121.69 L594.73,116.05 L595.79,111.06 L597.2,113.9 L598.62,116.73 L600.04,118.15 L601.45,113.9 L603.29,111.06 L604.71,116.02 L606.13,113.19 L607.82,115.31 L609.52,108.23 L610.94,112.48 L612.36,118.15 L614.2,111.77 L615.61,115.31 L617.03,113.9 L618.44,117.44 L619.86,116.02 L621.28,122.39 L622.34,121.61 L623.4,120.98 L624.46,120.71 L625.52,118.85 L626.59,120.12 L627.65,120.27 L629.06,116.73 L630.48,111.77 L632.18,117.44 L633.31,118.15 L634.73,116.02 L635.79,118.55 L636.85,119.56 L637.92,119.13 L638.98,118.85 L640.04,117.77 L641.1,116.73 L642.16,111.43 L643.23,105.4 L644.36,110.36 L645.35,111.77 L646.34,106.82 L647.47,112.48 L648.89,117.44 L650.31,111.06 L651.44,118.85 L652.43,110.36 L653.85,116.73 L655.26,115.31 L656.68,118.15 L658.52,111.06 L660.22,112.48 L661.63,118.15 L663.05,120.27 L664.11,120.94 L665.17,121.69 L666.24,121.7 L667.3,122.39 L668.36,122.59 L669.42,123.1 L670.84,118.15 L672.25,111.77 L673.67,117.44 L675.09,118.85 L676.5,119.56 L677.49,108.23 L678.63,104.69 L679.76,91.24 L680.75,75.66 L681.46,72.83 L682.59,75.66 L683.58,78.5" fill="none" stroke="#6060F0" stroke-width="0.8" stroke-linejoin="round"/>
<line x1="593.5" y1="121.6" x2="600" y2="119.2" stroke="#F06868" stroke-width="0.75" />
<line x1="498.2" y1="73" x2="498.2" y2="122.9" stroke="#7a7a7a" stroke-width="0.8" />
<line x1="498.2" y1="122.9" x2="683.5" y2="122.9" stroke="#7a7a7a" stroke-width="0.9" />
<line x1="496.4" y1="122.9" x2="498.2" y2="122.9" stroke="#666" stroke-width="0.6" />
<text x="496" y="124.9" font-size="7.3" text-anchor="end" fill="#1a1a1a" font-family="DejaVu Sans Condensed, DejaVu Sans, sans-serif"  stroke="#1a1a1a" stroke-width="0.22">0</text>
<line x1="496.4" y1="113.6" x2="498.2" y2="113.6" stroke="#666" stroke-width="0.6" />
<text x="496" y="115.6" font-size="7.3" text-anchor="end" fill="#1a1a1a" font-family="DejaVu Sans Condensed, DejaVu Sans, sans-serif"  stroke="#1a1a1a" stroke-width="0.22">100</text>
<line x1="496.4" y1="95" x2="498.2" y2="95" stroke="#666" stroke-width="0.6" />
<text x="496" y="97" font-size="7.3" text-anchor="end" fill="#1a1a1a" font-family="DejaVu Sans Condensed, DejaVu Sans, sans-serif"  stroke="#1a1a1a" stroke-width="0.22">300</text>
<line x1="496.4" y1="76.4" x2="498.2" y2="76.4" stroke="#666" stroke-width="0.6" />
<text x="496" y="78.4" font-size="7.3" text-anchor="end" fill="#1a1a1a" font-family="DejaVu Sans Condensed, DejaVu Sans, sans-serif"  stroke="#1a1a1a" stroke-width="0.22">500</text>
<line x1="497.2" y1="104.3" x2="498.2" y2="104.3" stroke="#888" stroke-width="0.5" />
<line x1="497.2" y1="85.7" x2="498.2" y2="85.7" stroke="#888" stroke-width="0.5" />
<line x1="507.4" y1="122.9" x2="507.4" y2="124.5" stroke="#777" stroke-width="0.6" />
<line x1="516.64" y1="122.9" x2="516.64" y2="123.8" stroke="#999" stroke-width="0.5" />
<line x1="525.88" y1="122.9" x2="525.88" y2="124.5" stroke="#777" stroke-width="0.6" />
<line x1="535.12" y1="122.9" x2="535.12" y2="123.8" stroke="#999" stroke-width="0.5" />
<line x1="544.36" y1="122.9" x2="544.36" y2="124.5" stroke="#777" stroke-width="0.6" />
<line x1="553.6" y1="122.9" x2="553.6" y2="123.8" stroke="#999" stroke-width="0.5" />
<line x1="562.84" y1="122.9" x2="562.84" y2="124.5" stroke="#777" stroke-width="0.6" />
<line x1="572.08" y1="122.9" x2="572.08" y2="123.8" stroke="#999" stroke-width="0.5" />
<line x1="581.32" y1="122.9" x2="581.32" y2="124.5" stroke="#777" stroke-width="0.6" />
<line x1="590.56" y1="122.9" x2="590.56" y2="123.8" stroke="#999" stroke-width="0.5" />
<line x1="599.8" y1="122.9" x2="599.8" y2="124.5" stroke="#777" stroke-width="0.6" />
<line x1="609.04" y1="122.9" x2="609.04" y2="123.8" stroke="#999" stroke-width="0.5" />
<line x1="618.28" y1="122.9" x2="618.28" y2="124.5" stroke="#777" stroke-width="0.6" />
<line x1="627.52" y1="122.9" x2="627.52" y2="123.8" stroke="#999" stroke-width="0.5" />
<line x1="636.76" y1="122.9" x2="636.76" y2="124.5" stroke="#777" stroke-width="0.6" />
<line x1="646" y1="122.9" x2="646" y2="123.8" stroke="#999" stroke-width="0.5" />
<line x1="655.24" y1="122.9" x2="655.24" y2="124.5" stroke="#777" stroke-width="0.6" />
<line x1="664.48" y1="122.9" x2="664.48" y2="123.8" stroke="#999" stroke-width="0.5" />
<line x1="673.72" y1="122.9" x2="673.72" y2="124.5" stroke="#777" stroke-width="0.6" />
<line x1="682.96" y1="122.9" x2="682.96" y2="123.8" stroke="#999" stroke-width="0.5" />
<text x="509.5" y="133.2" font-size="7.3" text-anchor="middle" fill="#1a1a1a" font-family="DejaVu Sans Condensed, DejaVu Sans, sans-serif"  stroke="#1a1a1a" stroke-width="0.22">2.7</text>
<text x="526.8" y="133.2" font-size="7.3" text-anchor="middle" fill="#1a1a1a" font-family="DejaVu Sans Condensed, DejaVu Sans, sans-serif"  stroke="#1a1a1a" stroke-width="0.22">2.8</text>
<text x="545.5" y="133.2" font-size="7.3" text-anchor="middle" fill="#1a1a1a" font-family="DejaVu Sans Condensed, DejaVu Sans, sans-serif"  stroke="#1a1a1a" stroke-width="0.22">2.9</text>
<text x="564" y="133.2" font-size="7.3" text-anchor="middle" fill="#1a1a1a" font-family="DejaVu Sans Condensed, DejaVu Sans, sans-serif"  stroke="#1a1a1a" stroke-width="0.22">3.0</text>
<text x="581.9" y="133.2" font-size="7.3" text-anchor="middle" fill="#1a1a1a" font-family="DejaVu Sans Condensed, DejaVu Sans, sans-serif"  stroke="#1a1a1a" stroke-width="0.22">3.1</text>
<text x="600.7" y="133.2" font-size="7.3" text-anchor="middle" fill="#1a1a1a" font-family="DejaVu Sans Condensed, DejaVu Sans, sans-serif"  stroke="#1a1a1a" stroke-width="0.22">3.2</text>
<text x="619.4" y="133.2" font-size="7.3" text-anchor="middle" fill="#1a1a1a" font-family="DejaVu Sans Condensed, DejaVu Sans, sans-serif"  stroke="#1a1a1a" stroke-width="0.22">3.3</text>
<text x="637.8" y="133.2" font-size="7.3" text-anchor="middle" fill="#1a1a1a" font-family="DejaVu Sans Condensed, DejaVu Sans, sans-serif"  stroke="#1a1a1a" stroke-width="0.22">3.4</text>
<text x="652.4" y="133.2" font-size="7.3" text-anchor="middle" fill="#1a1a1a" font-family="DejaVu Sans Condensed, DejaVu Sans, sans-serif"  stroke="#1a1a1a" stroke-width="0.22">3.5</text>
<text x="670.8" y="133.2" font-size="7.3" text-anchor="middle" fill="#1a1a1a" font-family="DejaVu Sans Condensed, DejaVu Sans, sans-serif"  stroke="#1a1a1a" stroke-width="0.22">3.6</text>
<text x="589" y="105.6" font-size="7.3" text-anchor="start" fill="#1a1a1a" font-family="DejaVu Sans Condensed, DejaVu Sans, sans-serif"  stroke="#1a1a1a" stroke-width="0.22">3.18</text>
<text x="384.6" y="141.9" font-size="7.3" text-anchor="middle" fill="#1a1a1a" font-family="DejaVu Sans Condensed, DejaVu Sans, sans-serif"  stroke="#1a1a1a" stroke-width="0.22">Time [min]</text>
<text x="588.4" y="142.1" font-size="7.3" text-anchor="middle" fill="#1a1a1a" font-family="DejaVu Sans Condensed, DejaVu Sans, sans-serif"  stroke="#1a1a1a" stroke-width="0.22">Time [min]</text>
<polygon points="386.01,205.82 387.1,198.72 388.2,189.97 389.29,176.86 390.38,170.85 390.93,172.49 391.8,168.11 392.57,161.56 393.33,159.92 393.99,161.56 394.43,165.93 395.3,182.32 396.39,193.25 397.49,200.9 399.13,205.27 399.5,205.3 385.5,206.4" fill="#D6D6F8" stroke="none"/>
<path d="M295.69,208.86 L296.73,208.29 L297.77,208.58 L299.16,208.64 L300.55,208.99 L301.93,209.3 L303.32,208.58 L304.36,208.85 L305.4,208.02 L306.44,207.76 L307.48,207.19 L308.52,207.75 L309.56,208.3 L310.6,208.38 L311.64,208.86 L313.03,207.88 L314.42,207.74 L315.8,208.58 L317.19,207.75 L318.58,207.47 L319.62,208.36 L320.66,208.58 L321.7,209.23 L322.74,208.99 L324.13,208.62 L325.51,208.58 L326.9,208.78 L328.29,208.3 L329.67,208.63 L331.06,208.3 L332.45,208.81 L333.83,208.86 L335.22,208.91 L336.61,208.58 L338,208.96 L339.38,208.72 L340.77,208.14 L342.16,207.88 L343.54,208.48 L344.93,208.58 L345.97,207.97 L347.01,207.88 L348.05,207.38 L349.09,206.91 L350.25,207.1 L351.4,206.87 L352.56,206.5 L353.6,206.94 L354.64,207.88 L356.03,208.58 L357.41,209.25 L358.8,208.86 L360.19,209.1 L361.57,208.99 L362.96,209.02 L364.35,208.86 L365.74,208.48 L367.12,209.27 L368.16,207.94 L369.2,206.5 L370.59,204.14 L371.98,205.8 L373.78,205.11 L374.96,206.2 L376.14,207.88 L377.18,208.58 L378.22,208.86 L379.6,209.27 L380.64,208.88 L381.69,208.58 L382.73,208.26 L383.77,207.19 L384.89,206.68 L386.01,205.82 L387.1,198.72 L388.2,189.97 L389.29,176.86 L390.38,170.85 L390.93,172.49 L391.8,168.11 L392.57,161.56 L393.33,159.92 L393.99,161.56 L394.43,165.93 L395.3,182.32 L396.39,193.25 L397.49,200.9 L399.13,205.27 L400.22,201.99 L401.31,201.45 L402.95,202.54 L404.04,202.62 L405.14,201.99 L406.78,203.09 L407.87,204.73 L408.96,207.46 L410.05,208.55 L411.15,207.46 L412.24,208.55 L413.88,209.1 L414.97,208.64 L416.07,208.55 L417.7,208.01 L412.01,207.78 L413.18,208.42 L414.35,208.71 L415.51,208.83 L416.68,208.36 L417.85,208.88 L419.02,208.42 L420.19,208.71 L421.36,209.09 L422.52,209.08 L423.69,208.6 L424.86,208.75 L426.03,209.01 L427.2,208.36 L428.36,208.83 L429.53,208.23 L430.7,208.13 L431.87,208.24 L433.04,207.89 L434.21,208.36 L435.67,208.48 L437.13,207.78 L438.29,207.72 L439.46,206.61 L441.21,207.78 L442.38,208.05 L443.55,208.36 L444.72,208.71 L445.89,208.86 L447.06,208.71 L448.22,208.9 L449.39,208.15 L450.56,208.79 L451.73,208.36 L452.9,208.52 L454.07,208.68 L455.23,208.44 L456.4,208.6 L457.57,208.78 L458.74,208.99 L459.91,208.85 L461.07,208.71 L462.24,208.89 L463.41,207.97 L464.58,208.04 L465.75,208.36 L466.92,208.22 L468.08,208.39 L469.25,208.13 L470.42,207.87 L471.59,208.51 L472.76,208.36 L474.22,207.65 L475.68,206.61 L477.43,207.55 L478.6,207.11 L479.77,207.78 L481.52,208.01" fill="none" stroke="#6060F0" stroke-width="0.8" stroke-linejoin="round"/>
<line x1="385.5" y1="206.4" x2="399.5" y2="205.3" stroke="#F06868" stroke-width="0.75" />
<line x1="296.1" y1="160.1" x2="296.1" y2="209.4" stroke="#7a7a7a" stroke-width="0.8" />
<line x1="296.1" y1="209.4" x2="481.4" y2="209.4" stroke="#7a7a7a" stroke-width="0.9" />
<line x1="294.3" y1="209.4" x2="296.1" y2="209.4" stroke="#666" stroke-width="0.6" />
<text x="293.9" y="211.4" font-size="7.3" text-anchor="end" fill="#1a1a1a" font-family="DejaVu Sans Condensed, DejaVu Sans, sans-serif"  stroke="#1a1a1a" stroke-width="0.22">0</text>
<line x1="294.3" y1="195.7" x2="296.1" y2="195.7" stroke="#666" stroke-width="0.6" />
<text x="293.9" y="197.7" font-size="7.3" text-anchor="end" fill="#1a1a1a" font-family="DejaVu Sans Condensed, DejaVu Sans, sans-serif"  stroke="#1a1a1a" stroke-width="0.22">1000</text>
<line x1="294.3" y1="182" x2="296.1" y2="182" stroke="#666" stroke-width="0.6" />
<text x="293.9" y="184" font-size="7.3" text-anchor="end" fill="#1a1a1a" font-family="DejaVu Sans Condensed, DejaVu Sans, sans-serif"  stroke="#1a1a1a" stroke-width="0.22">2000</text>
<line x1="294.3" y1="168.3" x2="296.1" y2="168.3" stroke="#666" stroke-width="0.6" />
<text x="293.9" y="170.3" font-size="7.3" text-anchor="end" fill="#1a1a1a" font-family="DejaVu Sans Condensed, DejaVu Sans, sans-serif"  stroke="#1a1a1a" stroke-width="0.22">3000</text>
<line x1="295.1" y1="202.55" x2="296.1" y2="202.55" stroke="#888" stroke-width="0.5" />
<line x1="295.1" y1="188.85" x2="296.1" y2="188.85" stroke="#888" stroke-width="0.5" />
<line x1="295.1" y1="175.15" x2="296.1" y2="175.15" stroke="#888" stroke-width="0.5" />
<line x1="295.1" y1="161.45" x2="296.1" y2="161.45" stroke="#888" stroke-width="0.5" />
<line x1="303.2" y1="209.4" x2="303.2" y2="211" stroke="#777" stroke-width="0.6" />
<line x1="312.46" y1="209.4" x2="312.46" y2="210.3" stroke="#999" stroke-width="0.5" />
<line x1="321.72" y1="209.4" x2="321.72" y2="211" stroke="#777" stroke-width="0.6" />
<line x1="330.98" y1="209.4" x2="330.98" y2="210.3" stroke="#999" stroke-width="0.5" />
<line x1="340.24" y1="209.4" x2="340.24" y2="211" stroke="#777" stroke-width="0.6" />
<line x1="349.5" y1="209.4" x2="349.5" y2="210.3" stroke="#999" stroke-width="0.5" />
<line x1="358.76" y1="209.4" x2="358.76" y2="211" stroke="#777" stroke-width="0.6" />
<line x1="368.02" y1="209.4" x2="368.02" y2="210.3" stroke="#999" stroke-width="0.5" />
<line x1="377.28" y1="209.4" x2="377.28" y2="211" stroke="#777" stroke-width="0.6" />
<line x1="386.54" y1="209.4" x2="386.54" y2="210.3" stroke="#999" stroke-width="0.5" />
<line x1="395.8" y1="209.4" x2="395.8" y2="211" stroke="#777" stroke-width="0.6" />
<line x1="405.06" y1="209.4" x2="405.06" y2="210.3" stroke="#999" stroke-width="0.5" />
<line x1="414.32" y1="209.4" x2="414.32" y2="211" stroke="#777" stroke-width="0.6" />
<line x1="423.58" y1="209.4" x2="423.58" y2="210.3" stroke="#999" stroke-width="0.5" />
<line x1="432.84" y1="209.4" x2="432.84" y2="211" stroke="#777" stroke-width="0.6" />
<line x1="442.1" y1="209.4" x2="442.1" y2="210.3" stroke="#999" stroke-width="0.5" />
<line x1="451.36" y1="209.4" x2="451.36" y2="211" stroke="#777" stroke-width="0.6" />
<line x1="460.62" y1="209.4" x2="460.62" y2="210.3" stroke="#999" stroke-width="0.5" />
<line x1="469.88" y1="209.4" x2="469.88" y2="211" stroke="#777" stroke-width="0.6" />
<line x1="479.14" y1="209.4" x2="479.14" y2="210.3" stroke="#999" stroke-width="0.5" />
<text x="398" y="166" font-size="7.3" text-anchor="start" fill="#1a1a1a" font-family="DejaVu Sans Condensed, DejaVu Sans, sans-serif"  stroke="#1a1a1a" stroke-width="0.22">4.38</text>
<path d="M497.69,197.3 L499.08,200.77 L500.47,204.93 L501.85,202.85 L503.24,203.54 L504.63,206.32 L506.02,204.24 L507.4,203.54 L508.79,204.93 L510.18,202.85 L511.56,204.93 L512.95,204.24 L514.34,203.54 L515.72,202.85 L517.11,204.24 L518.5,204.93 L519.88,202.85 L521.27,203.54 L522.66,207.01 L524.05,207.7 L525.43,205.62 L526.82,204.93 L528.21,207.7 L529.25,207.31 L530.29,207.01 L531.33,206.87 L532.37,207.7 L533.41,206.21 L534.45,206.32 L535.49,205.31 L536.53,205.62 L537.57,205.64 L538.61,206.32 L539.65,205.4 L540.69,205.62 L542.08,204.93 L543.26,201.6 L544.43,199.38 L545.54,202.85 L546.58,203.75 L547.62,206.32 L548.66,206.95 L549.7,207.7 L550.74,207.84 L551.79,208.4 L552.83,208.25 L553.87,207.7 L554.91,207.52 L555.95,207.01 L556.99,206.54 L558.03,207.01 L559.07,208.43 L560.11,208.4 L561.15,206.81 L562.19,207.01 L563.11,206.84 L564.04,206.61 L564.96,207.01 L566.35,204.93 L567.74,200.77 L569.12,195.22 L570.23,197.3 L571.2,185.51 L571.9,173.03 L572.59,159.85 L573.28,166.1 L573.98,173.03 L575.36,177.19 L576.75,182.74 L578.14,188.29 L579.52,196.61 L580.91,202.16 L582.3,203.54 L583.69,207.7 L585.07,207.01 L586.46,202.85 L587.85,204.24 L589.23,206.32 L590.62,204.24 L590.83,206.2 L591.78,205.56 L592.72,204.56 L593.66,204.78 L594.61,205.14 L595.55,204.08 L596.5,204.07 L597.44,202.53 L598.38,202.86 L599.33,201.95 L600.39,202.64 L601.45,204.78 L602.51,205.57 L603.58,206.2 L604.64,205.2 L605.7,204.78 L606.76,203.51 L607.82,201.95 L609.24,206.2 L610.3,205.61 L611.36,203.36 L612.43,205.71 L613.49,206.9 L614.43,206.99 L615.38,207.94 L616.32,207.61 L617.38,208.05 L618.44,207.73 L619.51,207.5 L620.57,208.32 L621.63,208.14 L622.69,207.73 L623.75,208.08 L624.82,206.9 L625.76,207.98 L626.7,207.57 L627.65,207.61 L628.59,207.11 L629.54,207.85 L630.48,206.9 L631.42,205.53 L632.37,205.25 L633.31,205.49 L634.37,206.67 L635.44,207.61 L636.38,206.4 L637.33,204.13 L638.27,203.36 L639.33,204.66 L640.39,205.49 L641.34,205.25 L642.28,203.38 L643.23,202.66 L644.29,203.95 L645.35,205.49 L646.41,205.35 L647.47,206.2 L648.42,206.29 L649.36,207.99 L650.31,207.61 L651.25,207.16 L652.19,207.97 L653.14,206.9 L654.32,206.23 L655.5,204.24 L656.68,202.66 L657.74,203.99 L658.8,206.2 L659.75,207.53 L660.69,207.13 L661.63,207.61 L662.58,207.22 L663.52,206.82 L664.47,206.9 L665.41,208.01 L666.35,207.36 L667.3,207.61 L668.24,207.46 L669.19,208.04 L670.13,208.32 L671.07,207.4 L672.02,208.07 L672.96,207.61 L673.91,207.27 L674.85,206.77 L675.79,206.9 L676.74,207.18 L677.68,207.02 L678.63,206.2 L680.33,204.78 L681.46,196.99 L682.59,206.2 L683.58,206.9" fill="none" stroke="#6060F0" stroke-width="0.8" stroke-linejoin="round"/>
<line x1="581.9" y1="202" x2="583.7" y2="207.7" stroke="#F06868" stroke-width="0.75" />
<line x1="498.2" y1="159.4" x2="498.2" y2="209.2" stroke="#7a7a7a" stroke-width="0.8" />
<line x1="498.2" y1="209.2" x2="683.5" y2="209.2" stroke="#7a7a7a" stroke-width="0.9" />
<line x1="496.4" y1="209.2" x2="498.2" y2="209.2" stroke="#666" stroke-width="0.6" />
<text x="496" y="211.2" font-size="7.3" text-anchor="end" fill="#1a1a1a" font-family="DejaVu Sans Condensed, DejaVu Sans, sans-serif"  stroke="#1a1a1a" stroke-width="0.22">0</text>
<line x1="496.4" y1="188.4" x2="498.2" y2="188.4" stroke="#666" stroke-width="0.6" />
<text x="496" y="190.4" font-size="7.3" text-anchor="end" fill="#1a1a1a" font-family="DejaVu Sans Condensed, DejaVu Sans, sans-serif"  stroke="#1a1a1a" stroke-width="0.22">500</text>
<line x1="496.4" y1="167.6" x2="498.2" y2="167.6" stroke="#666" stroke-width="0.6" />
<text x="496" y="169.6" font-size="7.3" text-anchor="end" fill="#1a1a1a" font-family="DejaVu Sans Condensed, DejaVu Sans, sans-serif"  stroke="#1a1a1a" stroke-width="0.22">1000</text>
<line x1="497.2" y1="198.8" x2="498.2" y2="198.8" stroke="#888" stroke-width="0.5" />
<line x1="497.2" y1="178" x2="498.2" y2="178" stroke="#888" stroke-width="0.5" />
<line x1="505.84" y1="209.2" x2="505.84" y2="210.8" stroke="#777" stroke-width="0.6" />
<line x1="515.05" y1="209.2" x2="515.05" y2="210.1" stroke="#999" stroke-width="0.5" />
<line x1="524.27" y1="209.2" x2="524.27" y2="210.8" stroke="#777" stroke-width="0.6" />
<line x1="533.48" y1="209.2" x2="533.48" y2="210.1" stroke="#999" stroke-width="0.5" />
<line x1="542.69" y1="209.2" x2="542.69" y2="210.8" stroke="#777" stroke-width="0.6" />
<line x1="551.91" y1="209.2" x2="551.91" y2="210.1" stroke="#999" stroke-width="0.5" />
<line x1="561.12" y1="209.2" x2="561.12" y2="210.8" stroke="#777" stroke-width="0.6" />
<line x1="570.33" y1="209.2" x2="570.33" y2="210.1" stroke="#999" stroke-width="0.5" />
<line x1="579.55" y1="209.2" x2="579.55" y2="210.8" stroke="#777" stroke-width="0.6" />
<line x1="588.76" y1="209.2" x2="588.76" y2="210.1" stroke="#999" stroke-width="0.5" />
<line x1="597.97" y1="209.2" x2="597.97" y2="210.8" stroke="#777" stroke-width="0.6" />
<line x1="607.19" y1="209.2" x2="607.19" y2="210.1" stroke="#999" stroke-width="0.5" />
<line x1="616.4" y1="209.2" x2="616.4" y2="210.8" stroke="#777" stroke-width="0.6" />
<line x1="625.61" y1="209.2" x2="625.61" y2="210.1" stroke="#999" stroke-width="0.5" />
<line x1="634.83" y1="209.2" x2="634.83" y2="210.8" stroke="#777" stroke-width="0.6" />
<line x1="644.04" y1="209.2" x2="644.04" y2="210.1" stroke="#999" stroke-width="0.5" />
<line x1="653.25" y1="209.2" x2="653.25" y2="210.8" stroke="#777" stroke-width="0.6" />
<line x1="662.47" y1="209.2" x2="662.47" y2="210.1" stroke="#999" stroke-width="0.5" />
<line x1="671.68" y1="209.2" x2="671.68" y2="210.8" stroke="#777" stroke-width="0.6" />
<line x1="680.89" y1="209.2" x2="680.89" y2="210.1" stroke="#999" stroke-width="0.5" />
<text x="581.8" y="195.1" font-size="7.3" text-anchor="start" fill="#1a1a1a" font-family="DejaVu Sans Condensed, DejaVu Sans, sans-serif"  stroke="#1a1a1a" stroke-width="0.22">4.32</text>
<path d="M295.69,265.7 L296.39,258.08 L297.5,265.7 L298.47,265.01 L299.58,253.22 L300.55,260.16 L301.24,265.7 L302.63,264.32 L303.6,245.59 L304.43,253.22 L305.4,265.7 L307.14,265.32 L308.87,265.7 L309.98,261.54 L310.95,254.33 L311.92,258.77 L312.75,265.7 L314.04,265.7 L315.33,265.52 L316.61,265.7 L317.9,265.7 L319.18,265.5 L320.47,265.52 L321.76,265.43 L323.04,265.7 L324.33,265.54 L325.61,265.7 L326.9,265.7 L328.29,247.67 L329.4,258.77 L330.37,262.93 L331.34,260.85 L332.45,265.01 L334.53,251.83 L335.5,261.54 L336.61,265.7 L338,261.54 L339.38,246.29 L340.49,251.83 L341.46,260.85 L342.57,251.14 L343.54,258.77 L344.51,262.93 L345.49,254.61 L346.6,258.77 L347.43,262.93 L348.4,257.38 L349.37,264.32 L350.48,265.01 L352.14,257.38 L353.25,264.32 L354.64,265.01 L356.03,262.93 L357.14,265.7 L359.49,265.7 L360.88,260.85 L361.85,261.54 L362.96,260.16 L363.93,262.24 L365.04,260.85 L366.43,264.32 L367.4,233.8 L368.23,222.71 L369.2,231.03 L370.59,260.16 L371.56,229.64 L372.39,215.77 L373.09,221.32 L373.78,240.74 L374.33,235.19 L375.17,252.53 L376.14,264.32 L377.52,265.01 L378.63,252.53 L379.6,264.32 L380.99,265.7 L382.38,265.68 L383.77,265.7 L385.15,265.7 L386.54,258.77 L387.51,254.61 L388.2,260.85 L389.04,264.32 L388.54,262.56 L389.53,261.15 L390.38,251.23 L391.37,242.03 L392.36,251.23 L393.21,261.15 L394.2,254.77 L395.2,261.15 L396.33,263.98 L397.04,257.6 L398.03,261.15 L399.16,262.56 L400.29,259.73 L401.28,264.69 L402.7,257.6 L403.69,264.69 L404.82,266.1 L406.06,265.7 L407.3,265.7 L408.54,265.7 L409.78,266.1 L411.2,260.44 L412.61,265.39 L414.03,265.6 L415.44,265.39 L416.86,261.15 L418.28,254.06 L419.41,256.9 L420.4,260.44 L421.53,265.39 L423.23,266.1 L425.07,260.44 L426.49,265.39 L427.76,264.69 L428.9,262.56 L430.03,265.39 L431.45,261.15 L432.86,261.85 L434.28,259.73 L435.27,257.6 L436.26,261.15 L438.1,246.28 L439.23,255.48 L440.51,263.98 L442.07,249.11 L443.06,256.9 L444.19,263.98 L445.18,260.44 L446.17,264.69 L448.01,261.85 L449.43,261.15 L450.42,262.56 L451.55,249.82 L452.69,243.44 L453.82,251.23 L454.95,264.69 L456.51,260.44 L457.5,264.69 L459.34,266.1 L460.66,265.7 L461.97,265.7 L463.29,265.7 L464.6,265.7 L465.92,265.7 L467.23,265.7 L468.55,266.1 L469.68,263.27 L471.09,265.39 L472.65,263.87 L474.21,262.56 L475.34,249.82 L476.33,229.99 L477.33,244.15 L478.17,263.98 L479.17,266.1" fill="none" stroke="#6060F0" stroke-width="0.8" stroke-linejoin="round"/>
<line x1="386" y1="265.2" x2="388.5" y2="262" stroke="#F06868" stroke-width="0.75" />
<line x1="296.1" y1="215.9" x2="296.1" y2="265.9" stroke="#7a7a7a" stroke-width="0.8" />
<line x1="296.1" y1="265.9" x2="481.4" y2="265.9" stroke="#7a7a7a" stroke-width="0.9" />
<line x1="294.3" y1="265.9" x2="296.1" y2="265.9" stroke="#666" stroke-width="0.6" />
<text x="293.9" y="267.9" font-size="7.3" text-anchor="end" fill="#1a1a1a" font-family="DejaVu Sans Condensed, DejaVu Sans, sans-serif"  stroke="#1a1a1a" stroke-width="0.22">0</text>
<line x1="294.3" y1="255.5" x2="296.1" y2="255.5" stroke="#666" stroke-width="0.6" />
<text x="293.9" y="257.5" font-size="7.3" text-anchor="end" fill="#1a1a1a" font-family="DejaVu Sans Condensed, DejaVu Sans, sans-serif"  stroke="#1a1a1a" stroke-width="0.22">50</text>
<line x1="294.3" y1="245.1" x2="296.1" y2="245.1" stroke="#666" stroke-width="0.6" />
<text x="293.9" y="247.1" font-size="7.3" text-anchor="end" fill="#1a1a1a" font-family="DejaVu Sans Condensed, DejaVu Sans, sans-serif"  stroke="#1a1a1a" stroke-width="0.22">100</text>
<line x1="294.3" y1="234.7" x2="296.1" y2="234.7" stroke="#666" stroke-width="0.6" />
<text x="293.9" y="236.7" font-size="7.3" text-anchor="end" fill="#1a1a1a" font-family="DejaVu Sans Condensed, DejaVu Sans, sans-serif"  stroke="#1a1a1a" stroke-width="0.22">150</text>
<line x1="294.3" y1="224.3" x2="296.1" y2="224.3" stroke="#666" stroke-width="0.6" />
<text x="293.9" y="226.3" font-size="7.3" text-anchor="end" fill="#1a1a1a" font-family="DejaVu Sans Condensed, DejaVu Sans, sans-serif"  stroke="#1a1a1a" stroke-width="0.22">200</text>
<line x1="295.1" y1="260.7" x2="296.1" y2="260.7" stroke="#888" stroke-width="0.5" />
<line x1="295.1" y1="250.3" x2="296.1" y2="250.3" stroke="#888" stroke-width="0.5" />
<line x1="295.1" y1="239.9" x2="296.1" y2="239.9" stroke="#888" stroke-width="0.5" />
<line x1="295.1" y1="229.5" x2="296.1" y2="229.5" stroke="#888" stroke-width="0.5" />
<line x1="295.1" y1="219.1" x2="296.1" y2="219.1" stroke="#888" stroke-width="0.5" />
<line x1="303.2" y1="265.9" x2="303.2" y2="267.5" stroke="#777" stroke-width="0.6" />
<line x1="312.46" y1="265.9" x2="312.46" y2="266.8" stroke="#999" stroke-width="0.5" />
<line x1="321.72" y1="265.9" x2="321.72" y2="267.5" stroke="#777" stroke-width="0.6" />
<line x1="330.98" y1="265.9" x2="330.98" y2="266.8" stroke="#999" stroke-width="0.5" />
<line x1="340.24" y1="265.9" x2="340.24" y2="267.5" stroke="#777" stroke-width="0.6" />
<line x1="349.5" y1="265.9" x2="349.5" y2="266.8" stroke="#999" stroke-width="0.5" />
<line x1="358.76" y1="265.9" x2="358.76" y2="267.5" stroke="#777" stroke-width="0.6" />
<line x1="368.02" y1="265.9" x2="368.02" y2="266.8" stroke="#999" stroke-width="0.5" />
<line x1="377.28" y1="265.9" x2="377.28" y2="267.5" stroke="#777" stroke-width="0.6" />
<line x1="386.54" y1="265.9" x2="386.54" y2="266.8" stroke="#999" stroke-width="0.5" />
<line x1="395.8" y1="265.9" x2="395.8" y2="267.5" stroke="#777" stroke-width="0.6" />
<line x1="405.06" y1="265.9" x2="405.06" y2="266.8" stroke="#999" stroke-width="0.5" />
<line x1="414.32" y1="265.9" x2="414.32" y2="267.5" stroke="#777" stroke-width="0.6" />
<line x1="423.58" y1="265.9" x2="423.58" y2="266.8" stroke="#999" stroke-width="0.5" />
<line x1="432.84" y1="265.9" x2="432.84" y2="267.5" stroke="#777" stroke-width="0.6" />
<line x1="442.1" y1="265.9" x2="442.1" y2="266.8" stroke="#999" stroke-width="0.5" />
<line x1="451.36" y1="265.9" x2="451.36" y2="267.5" stroke="#777" stroke-width="0.6" />
<line x1="460.62" y1="265.9" x2="460.62" y2="266.8" stroke="#999" stroke-width="0.5" />
<line x1="469.88" y1="265.9" x2="469.88" y2="267.5" stroke="#777" stroke-width="0.6" />
<line x1="479.14" y1="265.9" x2="479.14" y2="266.8" stroke="#999" stroke-width="0.5" />
<text x="303.7" y="276.5" font-size="7.3" text-anchor="middle" fill="#1a1a1a" font-family="DejaVu Sans Condensed, DejaVu Sans, sans-serif"  stroke="#1a1a1a" stroke-width="0.22">3.9</text>
<text x="321.4" y="276.5" font-size="7.3" text-anchor="middle" fill="#1a1a1a" font-family="DejaVu Sans Condensed, DejaVu Sans, sans-serif"  stroke="#1a1a1a" stroke-width="0.22">4.0</text>
<text x="340.1" y="276.5" font-size="7.3" text-anchor="middle" fill="#1a1a1a" font-family="DejaVu Sans Condensed, DejaVu Sans, sans-serif"  stroke="#1a1a1a" stroke-width="0.22">4.1</text>
<text x="358.8" y="276.5" font-size="7.3" text-anchor="middle" fill="#1a1a1a" font-family="DejaVu Sans Condensed, DejaVu Sans, sans-serif"  stroke="#1a1a1a" stroke-width="0.22">4.2</text>
<text x="376.8" y="276.5" font-size="7.3" text-anchor="middle" fill="#1a1a1a" font-family="DejaVu Sans Condensed, DejaVu Sans, sans-serif"  stroke="#1a1a1a" stroke-width="0.22">4.3</text>
<text x="396" y="276.5" font-size="7.3" text-anchor="middle" fill="#1a1a1a" font-family="DejaVu Sans Condensed, DejaVu Sans, sans-serif"  stroke="#1a1a1a" stroke-width="0.22">4.4</text>
<text x="414.7" y="276.5" font-size="7.3" text-anchor="middle" fill="#1a1a1a" font-family="DejaVu Sans Condensed, DejaVu Sans, sans-serif"  stroke="#1a1a1a" stroke-width="0.22">4.5</text>
<text x="433.1" y="276.5" font-size="7.3" text-anchor="middle" fill="#1a1a1a" font-family="DejaVu Sans Condensed, DejaVu Sans, sans-serif"  stroke="#1a1a1a" stroke-width="0.22">4.6</text>
<text x="450.1" y="276.5" font-size="7.3" text-anchor="middle" fill="#1a1a1a" font-family="DejaVu Sans Condensed, DejaVu Sans, sans-serif"  stroke="#1a1a1a" stroke-width="0.22">4.7</text>
<text x="470.7" y="276.5" font-size="7.3" text-anchor="middle" fill="#1a1a1a" font-family="DejaVu Sans Condensed, DejaVu Sans, sans-serif"  stroke="#1a1a1a" stroke-width="0.22">4.8</text>
<text x="376" y="238.7" font-size="7.3" text-anchor="start" fill="#1a1a1a" font-family="DejaVu Sans Condensed, DejaVu Sans, sans-serif"  stroke="#1a1a1a" stroke-width="0.22">4.35</text>
<path d="M498.11,215.77 L498.66,233.8 L499.5,232.42 L500.47,226.18 L501.16,231.03 L501.85,237.97 L502.55,243.51 L503.24,253.22 L504.21,246.29 L505.04,237.97 L505.6,233.8 L506.43,222.71 L506.99,233.8 L507.82,239.35 L508.37,242.13 L509.21,253.22 L510.18,254.61 L511.56,258.77 L512.53,251.83 L513.64,247.67 L514.75,250.45 L515.72,246.29 L516.42,254.61 L517.53,265.7 L518.5,260.85 L519.88,262.24 L521.27,253.92 L522.66,258.77 L524.05,261.54 L525.43,253.22 L526.54,251.14 L527.51,256 L528.62,253.92 L529.59,261.54 L530.56,240.74 L531.67,227.56 L532.78,240.74 L533.75,258.77 L535.14,253.22 L536.53,260.85 L537.92,256 L539.3,247.67 L540.27,257.38 L541.38,262.93 L542.49,252.53 L543.46,260.16 L544.85,254.61 L546.24,261.54 L547.62,257.38 L549.01,256 L550.4,254.61 L551.37,246.29 L552.2,249.75 L553.17,254.61 L554.14,250.45 L555.25,256 L556.64,258.77 L558.03,261.54 L559.41,265.7 L560.8,262.93 L562.19,260.85 L563.3,265.7 L564.96,255.3 L566.35,256.69 L567.74,264.32 L569.12,240.74 L570.23,247.67 L571.2,238.66 L572.17,242.13 L573.28,237.97 L574.39,246.29 L575.36,258.77 L576.75,260.16 L578.14,254.61 L579.52,261.54 L580.91,254.61 L581.88,258.77 L582.99,257.38 L584.38,262.24 L585.77,264.32 L587.15,258.77 L588.54,260.85 L588,259.73 L589.42,258.31 L590.55,254.06 L591.54,251.23 L592.53,256.9 L593.66,252.65 L594.8,249.82 L595.79,245.57 L596.78,258.31 L597.91,261.15 L599.05,251.23 L600.04,241.32 L601.03,234.24 L601.88,229.99 L602.87,221.5 L603.58,215.83 L604.28,228.58 L604.99,234.24 L605.7,244.86 L606.41,228.58 L607.54,237.07 L608.53,244.15 L609.52,252.65 L610.66,239.9 L611.36,236.36 L612.36,242.74 L613.49,252.65 L614.62,261.85 L615.61,255.48 L616.6,249.11 L617.45,256.9 L618.3,248.4 L619.15,242.74 L619.86,249.82 L620.85,265.39 L622.27,259.73 L623.4,249.82 L624.53,256.9 L625.52,261.15 L626.94,262.56 L628.36,259.73 L629.77,261.15 L631.19,258.31 L632.6,244.15 L633.6,235.66 L634.73,241.32 L635.86,249.82 L637.28,236.36 L638.27,244.15 L639.69,249.82 L640.68,249.11 L641.81,258.31 L643.23,261.15 L644.64,256.9 L646.06,255.48 L647.19,261.15 L648.18,258.31 L649.6,259.73 L651.01,256.9 L652.43,265.39 L653.85,264.69 L655.26,262.56 L656.68,262.56 L658.09,265.39 L659.16,265.83 L660.22,265.39 L661.63,258.31 L663.05,247.69 L664.47,255.48 L665.6,263.98 L667.3,265.39 L668.36,263.79 L669.42,261.85 L670.41,260.44 L671.55,264.69 L672.96,265.39 L674.38,261.15 L675.79,252.65 L677.21,248.4 L678.34,238.49 L679.33,229.99 L680.75,232.12 L681.74,241.32 L682.87,249.82 L684.01,251.23" fill="none" stroke="#6060F0" stroke-width="0.8" stroke-linejoin="round"/>
<line x1="597.9" y1="261.1" x2="600.7" y2="247" stroke="#F06868" stroke-width="0.75" />
<line x1="498.4" y1="214.8" x2="498.4" y2="265.9" stroke="#7a7a7a" stroke-width="0.8" />
<line x1="498.4" y1="265.9" x2="683.5" y2="265.9" stroke="#7a7a7a" stroke-width="0.9" />
<line x1="496.6" y1="265.9" x2="498.4" y2="265.9" stroke="#666" stroke-width="0.6" />
<text x="496.2" y="267.9" font-size="7.3" text-anchor="end" fill="#1a1a1a" font-family="DejaVu Sans Condensed, DejaVu Sans, sans-serif"  stroke="#1a1a1a" stroke-width="0.22">0</text>
<line x1="496.6" y1="252.9" x2="498.4" y2="252.9" stroke="#666" stroke-width="0.6" />
<text x="496.2" y="254.9" font-size="7.3" text-anchor="end" fill="#1a1a1a" font-family="DejaVu Sans Condensed, DejaVu Sans, sans-serif"  stroke="#1a1a1a" stroke-width="0.22">100</text>
<line x1="496.6" y1="239.9" x2="498.4" y2="239.9" stroke="#666" stroke-width="0.6" />
<text x="496.2" y="241.9" font-size="7.3" text-anchor="end" fill="#1a1a1a" font-family="DejaVu Sans Condensed, DejaVu Sans, sans-serif"  stroke="#1a1a1a" stroke-width="0.22">200</text>
<line x1="496.6" y1="226.9" x2="498.4" y2="226.9" stroke="#666" stroke-width="0.6" />
<text x="496.2" y="228.9" font-size="7.3" text-anchor="end" fill="#1a1a1a" font-family="DejaVu Sans Condensed, DejaVu Sans, sans-serif"  stroke="#1a1a1a" stroke-width="0.22">300</text>
<line x1="497.4" y1="259.4" x2="498.4" y2="259.4" stroke="#888" stroke-width="0.5" />
<line x1="497.4" y1="246.4" x2="498.4" y2="246.4" stroke="#888" stroke-width="0.5" />
<line x1="497.4" y1="233.4" x2="498.4" y2="233.4" stroke="#888" stroke-width="0.5" />
<line x1="497.4" y1="220.4" x2="498.4" y2="220.4" stroke="#888" stroke-width="0.5" />
<line x1="505.84" y1="265.9" x2="505.84" y2="267.5" stroke="#777" stroke-width="0.6" />
<line x1="515.05" y1="265.9" x2="515.05" y2="266.8" stroke="#999" stroke-width="0.5" />
<line x1="524.27" y1="265.9" x2="524.27" y2="267.5" stroke="#777" stroke-width="0.6" />
<line x1="533.48" y1="265.9" x2="533.48" y2="266.8" stroke="#999" stroke-width="0.5" />
<line x1="542.69" y1="265.9" x2="542.69" y2="267.5" stroke="#777" stroke-width="0.6" />
<line x1="551.91" y1="265.9" x2="551.91" y2="266.8" stroke="#999" stroke-width="0.5" />
<line x1="561.12" y1="265.9" x2="561.12" y2="267.5" stroke="#777" stroke-width="0.6" />
<line x1="570.33" y1="265.9" x2="570.33" y2="266.8" stroke="#999" stroke-width="0.5" />
<line x1="579.55" y1="265.9" x2="579.55" y2="267.5" stroke="#777" stroke-width="0.6" />
<line x1="588.76" y1="265.9" x2="588.76" y2="266.8" stroke="#999" stroke-width="0.5" />
<line x1="597.97" y1="265.9" x2="597.97" y2="267.5" stroke="#777" stroke-width="0.6" />
<line x1="607.19" y1="265.9" x2="607.19" y2="266.8" stroke="#999" stroke-width="0.5" />
<line x1="616.4" y1="265.9" x2="616.4" y2="267.5" stroke="#777" stroke-width="0.6" />
<line x1="625.61" y1="265.9" x2="625.61" y2="266.8" stroke="#999" stroke-width="0.5" />
<line x1="634.83" y1="265.9" x2="634.83" y2="267.5" stroke="#777" stroke-width="0.6" />
<line x1="644.04" y1="265.9" x2="644.04" y2="266.8" stroke="#999" stroke-width="0.5" />
<line x1="653.25" y1="265.9" x2="653.25" y2="267.5" stroke="#777" stroke-width="0.6" />
<line x1="662.47" y1="265.9" x2="662.47" y2="266.8" stroke="#999" stroke-width="0.5" />
<line x1="671.68" y1="265.9" x2="671.68" y2="267.5" stroke="#777" stroke-width="0.6" />
<line x1="680.89" y1="265.9" x2="680.89" y2="266.8" stroke="#999" stroke-width="0.5" />
<text x="506.3" y="276.6" font-size="7.3" text-anchor="middle" fill="#1a1a1a" font-family="DejaVu Sans Condensed, DejaVu Sans, sans-serif"  stroke="#1a1a1a" stroke-width="0.22">3.9</text>
<text x="524" y="276.6" font-size="7.3" text-anchor="middle" fill="#1a1a1a" font-family="DejaVu Sans Condensed, DejaVu Sans, sans-serif"  stroke="#1a1a1a" stroke-width="0.22">4.0</text>
<text x="542.5" y="276.6" font-size="7.3" text-anchor="middle" fill="#1a1a1a" font-family="DejaVu Sans Condensed, DejaVu Sans, sans-serif"  stroke="#1a1a1a" stroke-width="0.22">4.1</text>
<text x="561.1" y="276.6" font-size="7.3" text-anchor="middle" fill="#1a1a1a" font-family="DejaVu Sans Condensed, DejaVu Sans, sans-serif"  stroke="#1a1a1a" stroke-width="0.22">4.2</text>
<text x="578.8" y="276.6" font-size="7.3" text-anchor="middle" fill="#1a1a1a" font-family="DejaVu Sans Condensed, DejaVu Sans, sans-serif"  stroke="#1a1a1a" stroke-width="0.22">4.3</text>
<text x="597.9" y="276.6" font-size="7.3" text-anchor="middle" fill="#1a1a1a" font-family="DejaVu Sans Condensed, DejaVu Sans, sans-serif"  stroke="#1a1a1a" stroke-width="0.22">4.4</text>
<text x="617" y="276.6" font-size="7.3" text-anchor="middle" fill="#1a1a1a" font-family="DejaVu Sans Condensed, DejaVu Sans, sans-serif"  stroke="#1a1a1a" stroke-width="0.22">4.5</text>
<text x="635.4" y="276.6" font-size="7.3" text-anchor="middle" fill="#1a1a1a" font-family="DejaVu Sans Condensed, DejaVu Sans, sans-serif"  stroke="#1a1a1a" stroke-width="0.22">4.6</text>
<text x="653.8" y="276.6" font-size="7.3" text-anchor="middle" fill="#1a1a1a" font-family="DejaVu Sans Condensed, DejaVu Sans, sans-serif"  stroke="#1a1a1a" stroke-width="0.22">4.7</text>
<text x="670.8" y="276.6" font-size="7.3" text-anchor="middle" fill="#1a1a1a" font-family="DejaVu Sans Condensed, DejaVu Sans, sans-serif"  stroke="#1a1a1a" stroke-width="0.22">4.8</text>
<text x="582.4" y="235.8" font-size="7.3" text-anchor="start" fill="#1a1a1a" font-family="DejaVu Sans Condensed, DejaVu Sans, sans-serif"  stroke="#1a1a1a" stroke-width="0.22">4.41</text>
<text x="386.2" y="284.8" font-size="7.3" text-anchor="middle" fill="#1a1a1a" font-family="DejaVu Sans Condensed, DejaVu Sans, sans-serif"  stroke="#1a1a1a" stroke-width="0.22">Time [min]</text>
<text x="590.1" y="285.4" font-size="7.3" text-anchor="middle" fill="#1a1a1a" font-family="DejaVu Sans Condensed, DejaVu Sans, sans-serif"  stroke="#1a1a1a" stroke-width="0.22">Time [min]</text>
<text x="290.6" y="8.6" font-size="11" text-anchor="start" fill="#000" font-family="DejaVu Sans Condensed, DejaVu Sans, sans-serif"  stroke="#000" stroke-width="0.22">b</text>
<text x="290.6" y="146.8" font-size="11" text-anchor="start" fill="#000" font-family="DejaVu Sans Condensed, DejaVu Sans, sans-serif"  stroke="#000" stroke-width="0.22">c</text>
</svg></body></html>
